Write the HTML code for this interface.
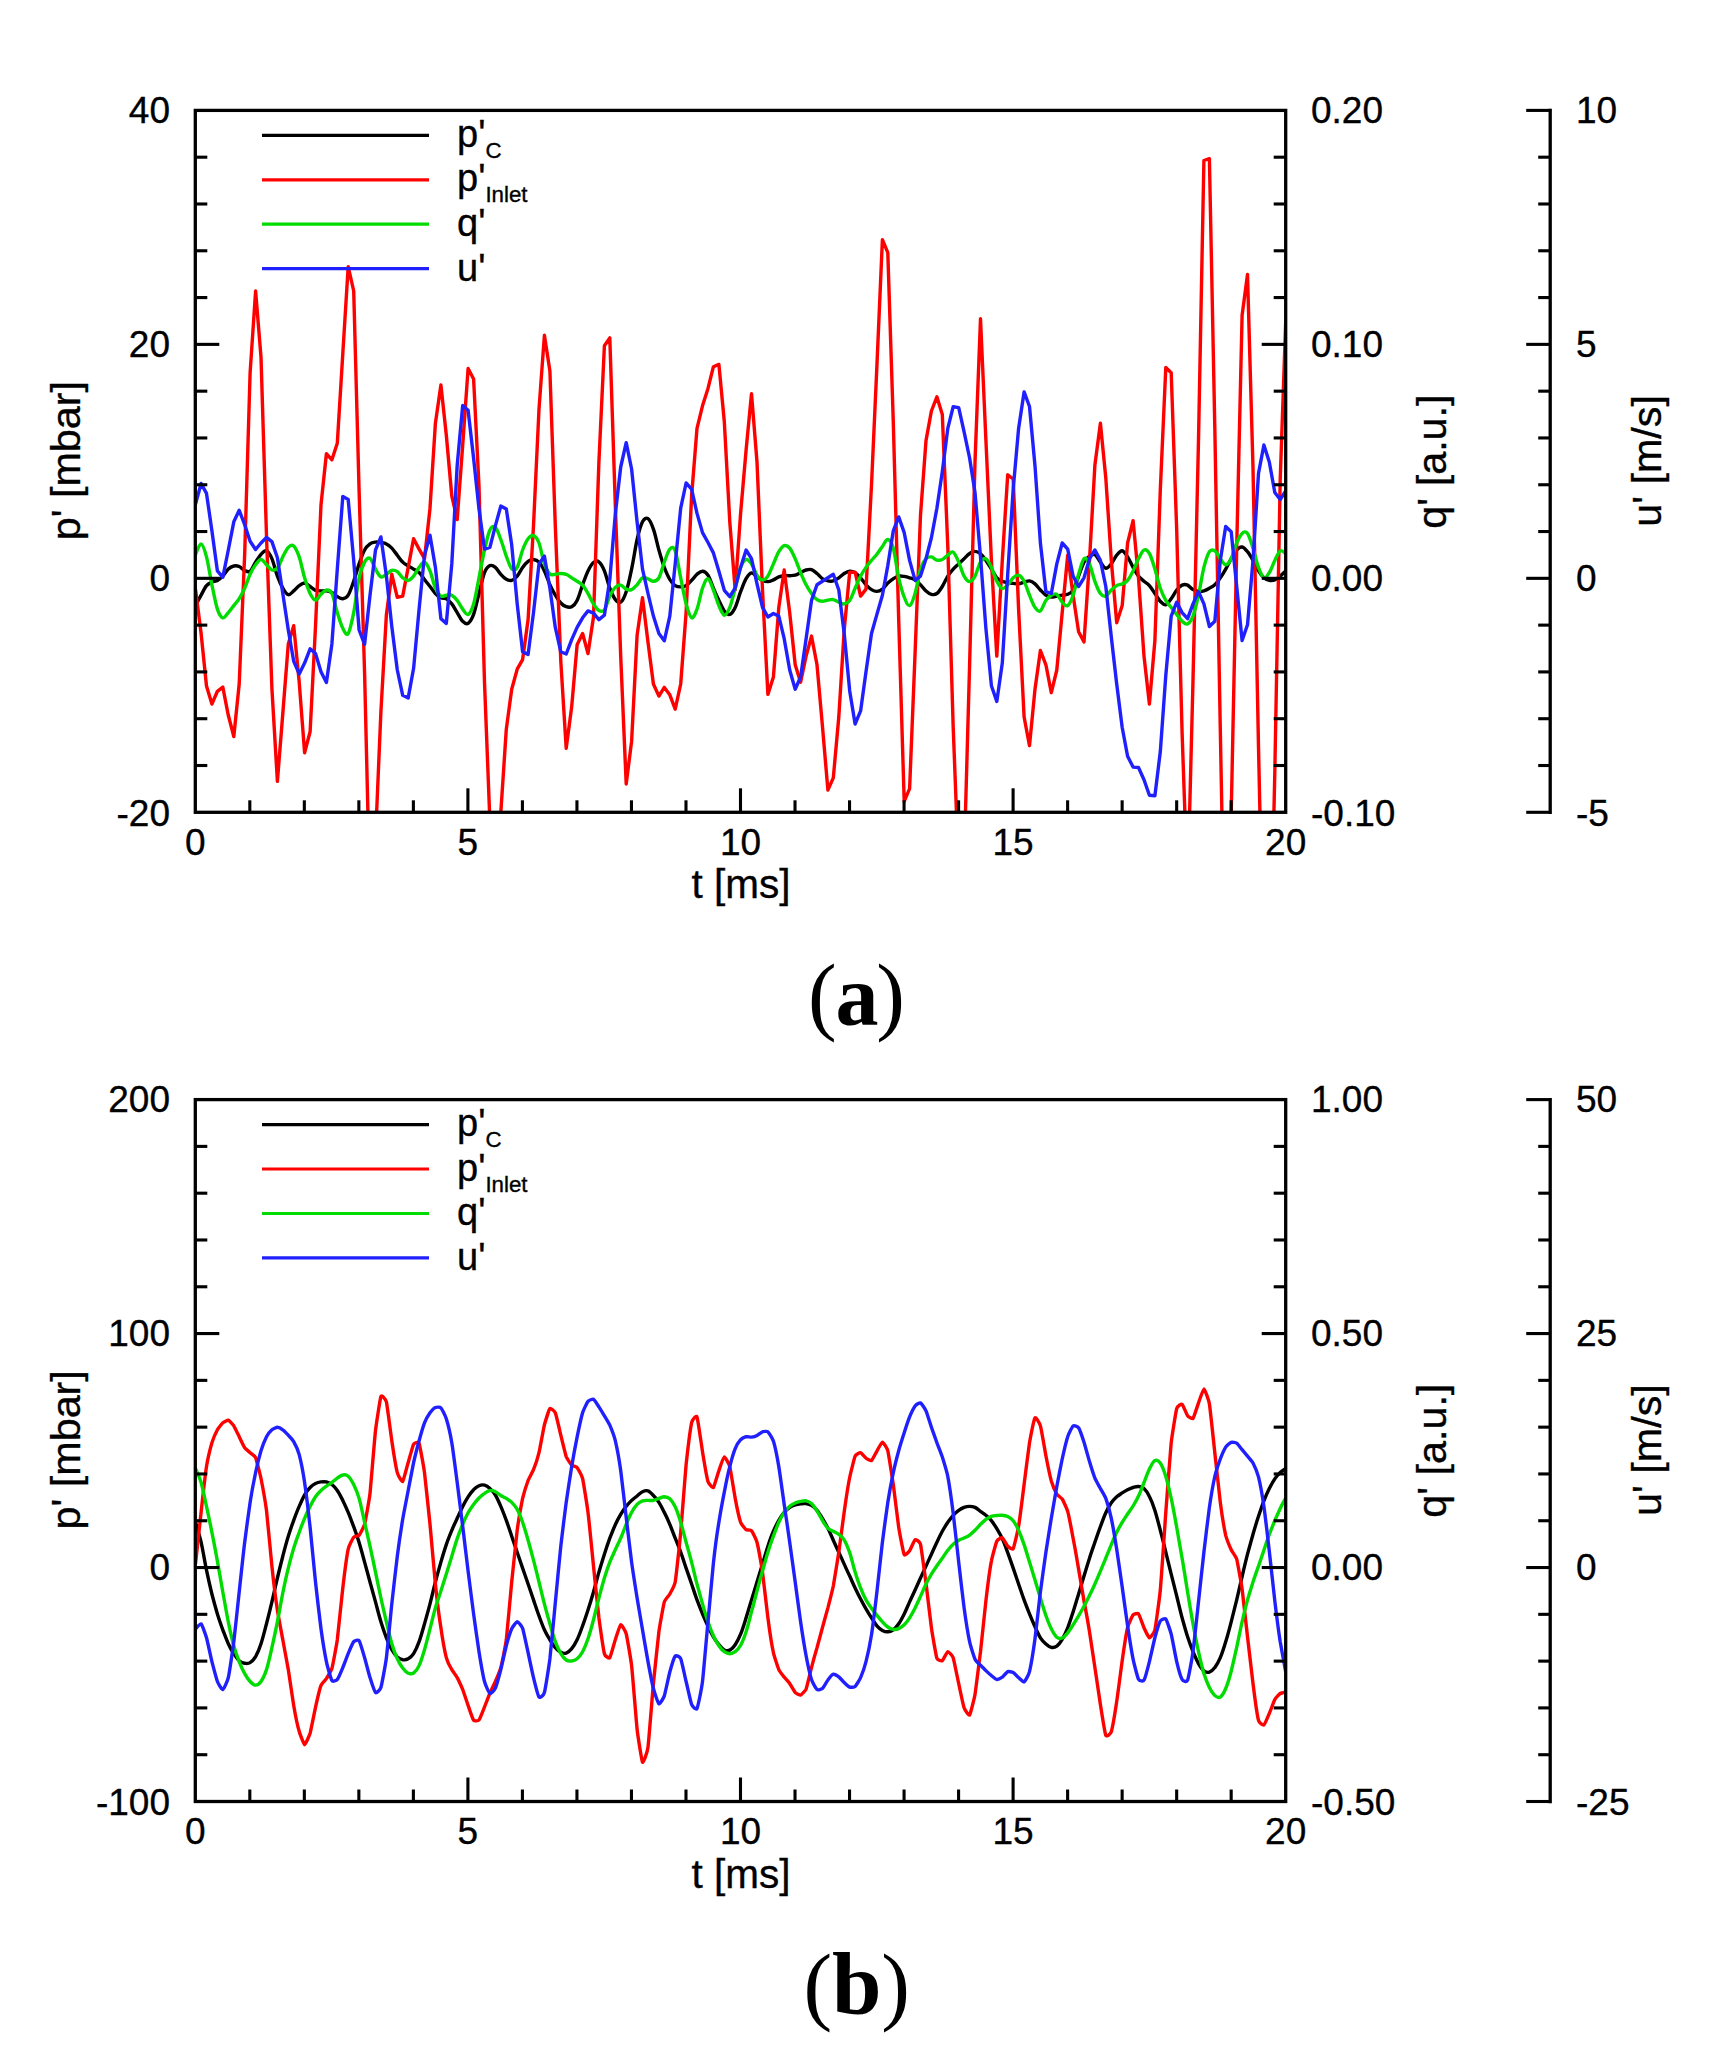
<!DOCTYPE html>
<html><head><meta charset="utf-8"><title>Figure</title>
<style>
html,body{margin:0;padding:0;background:#fff;}
body{width:1724px;height:2060px;overflow:hidden;}
svg{display:block;}
</style></head><body>
<svg width="1724" height="2060" viewBox="0 0 1724 2060">
<rect width="1724" height="2060" fill="#fff"/>
<g>
<clipPath id="clip1"><rect x="195.3" y="110.4" width="1090.4" height="701.9"/></clipPath>
<g clip-path="url(#clip1)" fill="none" stroke-width="3.4" stroke-linejoin="round" stroke-linecap="round">
<path stroke="#000" d="M195.6,605.6C196.5,603.9 199.2,598.5 201.1,595.2C202.9,591.9 204.7,587.8 206.5,585.6C208.3,583.5 210.1,583.0 211.9,582.2C213.8,581.3 215.6,581.4 217.4,580.4C219.2,579.4 221.0,578.0 222.8,576.1C224.7,574.2 226.5,570.8 228.3,569.1C230.1,567.4 231.9,566.4 233.8,566.0C235.6,565.5 237.4,565.7 239.2,566.5C241.0,567.3 242.8,569.7 244.7,570.5C246.5,571.3 248.3,572.6 250.1,571.2C251.9,569.8 253.7,565.0 255.6,562.1C257.4,559.3 259.2,556.2 261.0,554.3C262.8,552.4 264.6,550.1 266.5,550.8C268.3,551.6 270.1,554.5 271.9,558.7C273.7,562.9 275.5,571.1 277.4,576.1C279.2,581.0 281.0,585.1 282.8,588.2C284.6,591.4 286.4,594.3 288.3,594.7C290.1,595.1 291.9,592.4 293.7,590.9C295.5,589.4 297.3,586.9 299.2,585.6C301.0,584.3 302.8,582.9 304.6,583.0C306.4,583.2 308.2,585.3 310.1,586.5C311.9,587.7 313.7,589.6 315.5,590.3C317.3,591.1 319.1,590.8 321.0,590.9C322.8,590.9 324.6,590.6 326.4,590.9C328.2,591.1 330.0,591.6 331.9,592.6C333.7,593.6 335.5,595.6 337.3,596.6C339.1,597.6 340.9,598.9 342.8,598.7C344.6,598.5 346.4,598.1 348.2,595.2C350.0,592.3 351.8,586.5 353.7,581.3C355.5,576.1 357.3,569.1 359.1,563.9C360.9,558.7 362.8,553.3 364.6,550.0C366.4,546.6 368.2,545.2 370.0,543.9C371.8,542.6 373.7,542.4 375.5,542.1C377.3,541.9 379.1,542.2 380.9,542.5C382.7,542.8 384.6,542.9 386.4,543.9C388.2,544.8 390.0,546.3 391.8,548.2C393.6,550.1 395.5,552.9 397.3,555.2C399.1,557.5 400.9,560.4 402.7,562.1C404.5,563.9 406.4,564.8 408.2,566.0C410.0,567.1 411.8,568.0 413.6,569.1C415.4,570.2 417.3,570.9 419.1,572.6C420.9,574.3 422.7,577.2 424.5,579.5C426.3,581.9 428.2,584.2 430.0,586.5C431.8,588.8 433.6,591.6 435.4,593.5C437.2,595.4 439.1,597.0 440.9,597.8C442.7,598.7 444.5,597.7 446.3,598.7C448.1,599.7 450.0,601.6 451.8,603.9C453.6,606.2 455.4,609.7 457.2,612.6C459.0,615.5 460.9,619.5 462.7,621.3C464.5,623.1 466.3,624.6 468.1,623.4C469.9,622.2 471.8,619.3 473.6,614.4C475.4,609.4 477.2,600.4 479.0,593.5C480.8,586.5 482.7,577.2 484.5,572.6C486.3,568.0 488.1,566.5 489.9,565.6C491.7,564.8 493.6,565.9 495.4,567.4C497.2,568.8 499.0,572.4 500.8,574.3C502.6,576.3 504.5,578.2 506.3,579.2C508.1,580.2 509.9,580.9 511.7,580.4C513.5,579.9 515.4,578.2 517.2,576.1C519.0,573.9 520.8,569.8 522.6,567.4C524.4,564.9 526.3,562.6 528.1,561.3C529.9,560.0 531.7,559.4 533.5,559.5C535.3,559.7 537.2,560.3 539.0,562.1C540.8,564.0 542.6,567.1 544.4,570.9C546.2,574.6 548.1,580.7 549.9,584.8C551.7,588.8 553.5,592.2 555.3,595.2C557.1,598.3 559.0,601.1 560.8,603.0C562.6,605.0 564.4,606.1 566.2,606.7C568.0,607.3 569.9,607.7 571.7,606.7C573.5,605.7 575.3,604.1 577.1,600.4C579.0,596.8 580.8,589.7 582.6,584.8C584.4,579.8 586.2,574.6 588.0,570.9C589.9,567.1 591.7,564.0 593.5,562.5C595.3,561.0 597.1,560.4 598.9,561.8C600.8,563.2 602.6,566.4 604.4,570.9C606.2,575.3 608.0,583.5 609.8,588.2C611.7,593.0 613.5,597.2 615.3,599.6C617.1,601.9 618.9,603.5 620.7,602.2C622.6,600.9 624.4,597.2 626.2,591.7C628.0,586.2 629.8,577.8 631.6,569.1C633.5,560.4 635.3,547.4 637.1,539.5C638.9,531.6 640.7,525.3 642.5,521.8C644.4,518.3 646.2,517.4 648.0,518.6C649.8,519.9 651.6,523.9 653.4,529.1C655.3,534.3 657.1,543.6 658.9,550.0C660.7,556.4 662.5,562.4 664.3,567.4C666.2,572.3 668.0,576.5 669.8,579.5C671.6,582.6 673.4,584.4 675.2,585.6C677.1,586.9 678.9,586.9 680.7,586.9C682.5,586.9 684.3,586.7 686.1,585.6C688.0,584.6 689.8,582.3 691.6,580.4C693.4,578.5 695.2,575.9 697.0,574.3C698.9,572.8 700.7,571.1 702.5,571.2C704.3,571.3 706.1,572.4 708.0,575.2C709.8,578.0 711.6,584.0 713.4,588.2C715.2,592.5 717.0,596.7 718.9,600.4C720.7,604.2 722.5,608.5 724.3,610.9C726.1,613.2 727.9,614.9 729.8,614.4C731.6,613.8 733.4,611.2 735.2,607.4C737.0,603.6 738.8,596.5 740.6,591.7C742.5,586.9 744.3,581.8 746.1,578.7C747.9,575.5 749.7,573.2 751.5,572.9C753.4,572.7 755.2,575.7 757.0,576.9C758.8,578.2 760.6,579.6 762.5,580.4C764.3,581.2 766.1,581.7 767.9,581.6C769.7,581.6 771.5,580.7 773.4,579.9C775.2,579.1 777.0,577.6 778.8,576.9C780.6,576.2 782.4,575.9 784.2,575.7C786.1,575.5 787.9,575.8 789.7,575.7C791.5,575.6 793.3,575.7 795.2,575.2C797.0,574.7 798.8,573.5 800.6,572.6C802.4,571.7 804.2,570.5 806.1,570.0C807.9,569.5 809.7,569.0 811.5,569.6C813.3,570.2 815.1,572.0 817.0,573.5C818.8,575.0 820.6,577.4 822.4,578.7C824.2,579.9 826.0,580.6 827.9,580.9C829.7,581.3 831.5,581.5 833.3,580.9C835.1,580.4 836.9,579.1 838.8,577.8C840.6,576.6 842.4,574.6 844.2,573.5C846.0,572.4 847.8,571.3 849.7,571.2C851.5,571.1 853.3,571.5 855.1,572.6C856.9,573.7 858.7,575.8 860.6,577.8C862.4,579.8 864.2,582.8 866.0,584.8C867.8,586.7 869.6,588.5 871.5,589.6C873.3,590.7 875.1,591.5 876.9,591.4C878.7,591.3 880.5,590.5 882.4,589.1C884.2,587.7 886.0,584.8 887.8,583.0C889.6,581.3 891.4,579.8 893.3,578.7C895.1,577.5 896.9,576.4 898.7,576.1C900.5,575.7 902.4,576.1 904.2,576.4C906.0,576.7 907.8,577.2 909.6,577.8C911.4,578.4 913.3,578.7 915.1,579.9C916.9,581.1 918.7,582.9 920.5,584.8C922.3,586.6 924.2,589.3 926.0,590.9C927.8,592.5 929.6,593.9 931.4,594.3C933.2,594.8 935.1,594.8 936.9,593.5C938.7,592.2 940.5,589.4 942.3,586.5C944.1,583.6 946.0,579.0 947.8,576.1C949.6,573.2 951.4,571.1 953.2,569.1C955.0,567.1 956.9,565.6 958.7,563.9C960.5,562.1 962.3,560.4 964.1,558.7C965.9,556.9 967.8,554.7 969.6,553.5C971.4,552.2 973.2,551.3 975.0,551.4C976.8,551.4 978.7,552.3 980.5,553.8C982.3,555.3 984.1,557.9 985.9,560.4C987.7,563.0 989.6,566.2 991.4,569.1C993.2,572.0 995.0,575.8 996.8,577.8C998.6,579.8 1000.5,580.5 1002.3,581.3C1004.1,582.1 1005.9,582.3 1007.7,582.7C1009.5,583.0 1011.4,583.2 1013.2,583.4C1015.0,583.6 1016.8,584.1 1018.6,583.9C1020.4,583.7 1022.3,582.7 1024.1,582.2C1025.9,581.7 1027.7,580.7 1029.5,580.9C1031.3,581.2 1033.2,582.4 1035.0,583.9C1036.8,585.4 1038.6,588.1 1040.4,590.0C1042.2,591.9 1044.1,594.1 1045.9,595.2C1047.7,596.4 1049.5,596.8 1051.3,597.0C1053.1,597.1 1055.0,596.4 1056.8,596.1C1058.6,595.8 1060.4,595.5 1062.2,595.2C1064.0,594.9 1065.9,595.2 1067.7,594.3C1069.5,593.5 1071.3,593.0 1073.1,590.0C1074.9,586.9 1076.8,580.7 1078.6,576.1C1080.4,571.4 1082.2,565.5 1084.0,562.1C1085.8,558.8 1087.7,557.3 1089.5,556.1C1091.3,554.8 1093.1,553.5 1094.9,554.5C1096.7,555.5 1098.6,559.9 1100.4,562.1C1102.2,564.4 1104.0,568.0 1105.8,568.2C1107.6,568.5 1109.5,566.1 1111.3,563.9C1113.1,561.7 1114.9,557.4 1116.7,555.2C1118.5,553.0 1120.4,550.6 1122.2,550.8C1124.0,551.1 1125.8,554.2 1127.6,556.9C1129.5,559.7 1131.3,564.2 1133.1,567.4C1134.9,570.6 1136.7,573.8 1138.5,576.1C1140.4,578.4 1142.2,579.7 1144.0,581.3C1145.8,582.9 1147.6,583.6 1149.4,585.6C1151.3,587.7 1153.1,590.9 1154.9,593.5C1156.7,596.1 1158.5,599.4 1160.3,601.3C1162.2,603.2 1164.0,605.2 1165.8,604.8C1167.6,604.3 1169.4,601.2 1171.2,598.7C1173.1,596.2 1174.9,592.3 1176.7,590.0C1178.5,587.7 1180.3,585.9 1182.1,585.1C1184.0,584.3 1185.8,584.4 1187.6,585.1C1189.4,585.9 1191.2,588.6 1193.0,589.6C1194.9,590.7 1196.7,591.2 1198.5,591.4C1200.3,591.6 1202.1,591.4 1203.9,590.9C1205.8,590.3 1207.6,589.3 1209.4,588.2C1211.2,587.2 1213.0,586.5 1214.8,584.8C1216.7,583.0 1218.5,580.4 1220.3,577.8C1222.1,575.2 1223.9,572.3 1225.7,569.1C1227.6,565.9 1229.4,561.9 1231.2,558.7C1233.0,555.5 1234.8,551.9 1236.7,550.0C1238.5,548.0 1240.3,546.7 1242.1,547.0C1243.9,547.3 1245.7,549.5 1247.5,551.7C1249.4,553.9 1251.2,557.2 1253.0,560.4C1254.8,563.6 1256.6,568.0 1258.5,570.9C1260.3,573.8 1262.1,576.2 1263.9,577.8C1265.7,579.4 1267.5,580.1 1269.3,580.4C1271.2,580.8 1273.0,580.6 1274.8,579.9C1276.6,579.2 1278.4,577.6 1280.2,576.1C1282.1,574.6 1284.8,571.7 1285.7,570.9"/>
<polyline stroke="#ff0000" points="195.6,590.0 201.1,633.5 206.5,686.0 211.9,704.0 217.4,691.3 222.8,687.1 228.3,715.3 233.8,736.5 239.2,684.0 244.7,553.5 250.1,372.8 255.6,291.0 261.0,357.1 266.5,536.0 271.9,688.3 277.4,781.4 282.8,713.5 288.3,643.9 293.7,625.7 299.2,682.2 304.6,752.7 310.1,731.8 315.5,626.5 321.0,504.7 326.4,453.7 331.9,459.8 337.3,443.2 342.8,353.6 348.2,266.6 353.7,291.0 359.1,490.8 364.6,673.5 370.0,899.7 375.5,838.8 380.9,711.8 386.4,614.4 391.8,574.3 397.3,597.3 402.7,596.1 408.2,567.4 413.6,538.7 419.1,549.1 424.5,558.7 430.0,508.2 435.4,423.2 440.9,384.9 446.3,435.0 451.8,496.0 457.2,519.5 462.7,445.0 468.1,368.5 473.6,379.0 479.0,486.0 484.5,682.2 489.9,821.4 495.4,891.0 500.8,812.7 506.3,729.2 511.7,689.2 517.2,669.2 522.6,659.6 528.1,619.6 533.5,525.6 539.0,409.0 544.4,335.3 549.9,371.0 555.3,525.6 560.8,661.3 566.2,748.3 571.7,706.6 577.1,644.8 582.6,633.5 588.0,653.5 593.5,617.0 598.9,462.0 604.4,345.8 609.8,337.9 615.3,504.7 620.7,656.1 626.2,784.0 631.6,741.4 637.1,635.2 642.5,597.8 648.0,642.2 653.4,684.0 658.9,696.1 664.3,687.4 669.8,694.8 675.2,709.2 680.7,684.0 686.1,612.6 691.6,496.0 697.0,428.4 702.5,405.8 708.0,388.4 713.4,366.7 718.9,364.4 724.3,421.5 729.8,522.1 735.2,590.0 740.6,513.4 746.1,450.0 751.5,393.6 757.0,462.0 762.5,590.0 767.9,694.4 773.4,677.0 778.8,607.4 784.2,570.0 789.7,612.6 795.2,664.8 800.6,682.2 806.1,656.1 811.5,636.1 817.0,664.8 822.4,725.7 827.9,790.1 833.3,777.9 838.8,717.0 844.2,630.0 849.7,572.2 855.1,572.2 860.6,596.1 866.0,589.1 871.5,485.0 876.9,365.8 882.4,239.6 887.8,252.7 893.3,422.5 898.7,619.6 904.2,801.4 909.6,788.7 915.1,652.6 920.5,515.2 926.0,440.6 931.4,411.0 936.9,396.8 942.3,414.5 947.8,546.5 953.2,727.5 958.7,870.1 964.1,861.5 969.6,664.8 975.0,462.0 980.5,318.8 985.9,440.0 991.4,560.4 996.8,656.1 1002.3,560.4 1007.7,474.8 1013.2,479.0 1018.6,609.1 1024.1,717.0 1029.5,745.7 1035.0,689.2 1040.4,650.5 1045.9,664.8 1051.3,692.7 1056.8,670.0 1062.2,612.6 1067.7,555.2 1073.1,595.2 1078.6,631.8 1084.0,641.9 1089.5,560.4 1094.9,465.0 1100.4,423.2 1105.8,478.0 1111.3,560.4 1116.7,622.7 1122.2,605.6 1127.6,543.0 1133.1,520.7 1138.5,577.8 1144.0,656.1 1149.4,704.0 1154.9,640.5 1160.3,490.0 1165.8,367.5 1171.2,372.7 1176.7,530.0 1182.1,732.7 1187.6,891.0 1193.0,680.5 1198.5,440.0 1203.9,160.5 1209.4,158.7 1214.8,427.0 1220.3,729.2 1225.7,1012.8 1231.2,814.0 1236.7,548.0 1242.1,315.3 1247.5,274.4 1253.0,468.0 1258.5,746.6 1263.9,995.4 1269.3,1020.7 1274.8,772.7 1280.2,480.0 1285.7,322.0"/>
<path stroke="#00dc00" d="M195.6,554.3C196.5,552.6 199.2,543.4 201.1,543.9C202.9,544.3 204.7,550.1 206.5,556.9C208.3,563.7 210.1,576.1 211.9,584.8C213.8,593.5 215.6,603.6 217.4,609.1C219.2,614.6 221.0,617.2 222.8,617.8C224.7,618.4 226.5,614.6 228.3,612.6C230.1,610.6 231.9,608.0 233.8,605.6C235.6,603.3 237.4,601.6 239.2,598.7C241.0,595.8 242.8,592.3 244.7,588.2C246.5,584.2 248.3,578.2 250.1,574.3C251.9,570.4 253.7,567.2 255.6,564.8C257.4,562.3 259.2,559.5 261.0,559.5C262.8,559.5 264.6,563.0 266.5,564.8C268.3,566.5 270.1,569.4 271.9,570.0C273.7,570.6 275.5,570.4 277.4,568.2C279.2,566.1 281.0,560.4 282.8,556.9C284.6,553.4 286.4,549.2 288.3,547.4C290.1,545.6 291.9,544.5 293.7,546.1C295.5,547.7 297.3,551.7 299.2,556.9C301.0,562.2 302.8,571.7 304.6,577.8C306.4,583.9 308.2,589.8 310.1,593.5C311.9,597.2 313.7,599.9 315.5,600.1C317.3,600.2 319.1,596.0 321.0,594.3C322.8,592.7 324.6,590.1 326.4,590.0C328.2,589.8 330.0,589.7 331.9,593.5C333.7,597.2 335.5,606.8 337.3,612.6C339.1,618.4 340.9,624.8 342.8,628.3C344.6,631.8 346.4,636.1 348.2,633.5C350.0,630.9 351.8,621.9 353.7,612.6C355.5,603.3 357.3,586.2 359.1,577.8C360.9,569.4 362.8,565.4 364.6,562.1C366.4,558.9 368.2,557.2 370.0,558.3C371.8,559.5 373.7,566.0 375.5,569.1C377.3,572.2 379.1,576.1 380.9,576.9C382.7,577.8 384.6,575.4 386.4,574.3C388.2,573.2 390.0,570.8 391.8,570.3C393.6,569.9 395.5,570.5 397.3,571.7C399.1,573.0 400.9,576.4 402.7,577.8C404.5,579.3 406.4,580.7 408.2,580.4C410.0,580.1 411.8,578.2 413.6,576.1C415.4,573.9 417.3,569.7 419.1,567.4C420.9,565.0 422.7,561.6 424.5,562.1C426.3,562.7 428.2,566.5 430.0,570.9C431.8,575.2 433.6,584.0 435.4,588.2C437.2,592.5 439.1,594.9 440.9,596.1C442.7,597.2 444.5,595.4 446.3,595.2C448.1,595.1 450.0,594.3 451.8,595.2C453.6,596.1 455.4,598.1 457.2,600.4C459.0,602.8 460.9,606.8 462.7,609.1C464.5,611.5 466.3,615.2 468.1,614.4C469.9,613.5 471.8,610.0 473.6,603.9C475.4,597.8 477.2,586.8 479.0,577.8C480.8,568.8 482.7,557.9 484.5,550.0C486.3,542.0 488.1,533.7 489.9,530.0C491.7,526.2 493.6,525.8 495.4,527.4C497.2,528.9 499.0,534.7 500.8,539.5C502.6,544.3 504.5,551.2 506.3,556.1C508.1,560.9 509.9,566.9 511.7,568.8C513.5,570.6 515.4,570.5 517.2,567.4C519.0,564.2 520.8,554.8 522.6,550.0C524.4,545.2 526.3,541.0 528.1,538.7C529.9,536.3 531.7,535.0 533.5,535.7C535.3,536.4 537.2,538.3 539.0,543.0C540.8,547.7 542.6,558.7 544.4,563.9C546.2,569.1 548.1,572.2 549.9,574.0C551.7,575.7 553.5,574.4 555.3,574.3C557.1,574.2 559.0,573.5 560.8,573.5C562.6,573.5 564.4,573.6 566.2,574.3C568.0,575.1 569.9,576.6 571.7,577.8C573.5,579.0 575.3,580.1 577.1,581.3C579.0,582.5 580.8,583.1 582.6,585.1C584.4,587.1 586.2,590.3 588.0,593.5C589.9,596.6 591.7,601.1 593.5,603.9C595.3,606.8 597.1,609.5 598.9,610.5C600.8,611.5 602.6,612.4 604.4,610.0C606.2,607.6 608.0,599.9 609.8,596.1C611.7,592.3 613.5,589.2 615.3,587.4C617.1,585.6 618.9,584.8 620.7,585.1C622.6,585.4 624.4,588.4 626.2,589.1C628.0,589.9 629.8,590.4 631.6,589.6C633.5,588.9 635.3,586.7 637.1,584.8C638.9,582.8 640.7,578.8 642.5,577.8C644.4,576.8 646.2,578.3 648.0,578.9C649.8,579.4 651.6,581.5 653.4,581.3C655.3,581.1 657.1,581.0 658.9,577.8C660.7,574.6 662.5,566.9 664.3,562.1C666.2,557.4 668.0,551.0 669.8,549.1C671.6,547.2 673.4,546.1 675.2,550.8C677.1,555.6 678.9,569.0 680.7,577.8C682.5,586.7 684.3,597.2 686.1,603.9C688.0,610.6 689.8,617.0 691.6,617.8C693.4,618.7 695.2,614.1 697.0,609.1C698.9,604.2 700.7,593.3 702.5,588.2C704.3,583.2 706.1,578.4 708.0,578.7C709.8,579.0 711.6,585.5 713.4,590.0C715.2,594.5 717.0,601.4 718.9,605.6C720.7,609.9 722.5,614.9 724.3,615.2C726.1,615.5 727.9,611.9 729.8,607.4C731.6,602.9 733.4,594.9 735.2,588.2C737.0,581.6 738.8,572.2 740.6,567.4C742.5,562.6 744.3,560.1 746.1,559.5C747.9,559.0 749.7,561.3 751.5,563.9C753.4,566.5 755.2,572.5 757.0,575.2C758.8,577.9 760.6,579.8 762.5,579.9C764.3,580.0 766.1,578.7 767.9,576.1C769.7,573.4 771.5,568.0 773.4,563.9C775.2,559.8 777.0,554.8 778.8,551.7C780.6,548.7 782.4,546.2 784.2,545.6C786.1,545.0 787.9,546.1 789.7,548.2C791.5,550.4 793.3,554.6 795.2,558.7C797.0,562.7 798.8,568.2 800.6,572.6C802.4,576.9 804.2,581.3 806.1,584.8C807.9,588.2 809.7,591.0 811.5,593.5C813.3,595.9 815.1,598.3 817.0,599.6C818.8,600.9 820.6,601.2 822.4,601.3C824.2,601.4 826.0,600.4 827.9,600.1C829.7,599.8 831.5,599.2 833.3,599.6C835.1,599.9 836.9,601.4 838.8,602.2C840.6,602.9 842.4,604.2 844.2,603.9C846.0,603.6 847.8,603.0 849.7,600.4C851.5,597.8 853.3,592.3 855.1,588.2C856.9,584.2 858.7,579.6 860.6,576.1C862.4,572.6 864.2,570.0 866.0,567.4C867.8,564.8 869.6,562.6 871.5,560.4C873.3,558.2 875.1,556.6 876.9,554.3C878.7,552.0 880.5,549.0 882.4,546.5C884.2,544.0 886.0,539.2 887.8,539.5C889.6,539.8 891.4,541.9 893.3,548.2C895.1,554.6 896.9,569.7 898.7,577.8C900.5,585.9 902.4,592.3 904.2,597.0C906.0,601.6 907.8,606.2 909.6,605.6C911.4,605.1 913.3,599.6 915.1,593.5C916.9,587.4 918.7,574.9 920.5,569.1C922.3,563.3 924.2,560.7 926.0,558.7C927.8,556.6 929.6,556.7 931.4,556.9C933.2,557.2 935.1,559.6 936.9,560.1C938.7,560.5 940.5,560.4 942.3,559.5C944.1,558.7 946.0,556.4 947.8,555.2C949.6,553.9 951.4,550.9 953.2,552.1C955.0,553.2 956.9,558.1 958.7,562.1C960.5,566.2 962.3,572.8 964.1,576.1C965.9,579.3 967.8,581.6 969.6,581.6C971.4,581.6 973.2,579.3 975.0,576.1C976.8,572.8 978.7,565.0 980.5,562.1C982.3,559.2 984.1,557.8 985.9,558.7C987.7,559.5 989.6,563.6 991.4,567.4C993.2,571.1 995.0,577.8 996.8,581.3C998.6,584.8 1000.5,588.0 1002.3,588.6C1004.1,589.2 1005.9,586.6 1007.7,584.8C1009.5,583.0 1011.4,579.4 1013.2,577.8C1015.0,576.2 1016.8,574.6 1018.6,575.2C1020.4,575.8 1022.3,578.0 1024.1,581.3C1025.9,584.6 1027.7,590.9 1029.5,595.2C1031.3,599.6 1033.2,604.8 1035.0,607.4C1036.8,610.0 1038.6,612.0 1040.4,610.9C1042.2,609.7 1044.1,603.0 1045.9,600.4C1047.7,597.8 1049.5,596.2 1051.3,595.2C1053.1,594.2 1055.0,593.2 1056.8,594.3C1058.6,595.5 1060.4,600.3 1062.2,602.2C1064.0,604.1 1065.9,606.8 1067.7,605.6C1069.5,604.5 1071.3,600.4 1073.1,595.2C1074.9,590.0 1076.8,580.4 1078.6,574.3C1080.4,568.2 1082.2,560.4 1084.0,558.7C1085.8,556.9 1087.7,560.1 1089.5,563.9C1091.3,567.7 1093.1,576.4 1094.9,581.3C1096.7,586.2 1098.6,591.0 1100.4,593.5C1102.2,595.9 1104.0,596.7 1105.8,596.1C1107.6,595.5 1109.5,591.7 1111.3,590.0C1113.1,588.2 1114.9,586.7 1116.7,585.6C1118.5,584.6 1120.4,584.8 1122.2,583.9C1124.0,583.0 1125.8,582.6 1127.6,580.4C1129.5,578.2 1131.3,574.5 1133.1,570.9C1134.9,567.2 1136.7,562.1 1138.5,558.7C1140.4,555.2 1142.2,550.8 1144.0,550.0C1145.8,549.1 1147.6,550.3 1149.4,553.5C1151.3,556.6 1153.1,563.3 1154.9,569.1C1156.7,574.9 1158.5,583.0 1160.3,588.2C1162.2,593.5 1164.0,597.2 1165.8,600.4C1167.6,603.6 1169.4,605.1 1171.2,607.4C1173.1,609.7 1174.9,612.0 1176.7,614.4C1178.5,616.7 1180.3,619.7 1182.1,621.3C1184.0,622.9 1185.8,624.8 1187.6,623.9C1189.4,623.0 1191.2,620.9 1193.0,616.1C1194.9,611.3 1196.7,603.3 1198.5,595.2C1200.3,587.1 1202.1,574.6 1203.9,567.4C1205.8,560.1 1207.6,554.5 1209.4,551.7C1211.2,549.0 1213.0,549.7 1214.8,550.8C1216.7,552.0 1218.5,556.3 1220.3,558.7C1222.1,561.0 1223.9,564.8 1225.7,564.8C1227.6,564.8 1229.4,562.3 1231.2,558.7C1233.0,555.0 1234.8,547.2 1236.7,543.0C1238.5,538.8 1240.3,535.0 1242.1,533.4C1243.9,531.8 1245.7,531.0 1247.5,533.4C1249.4,535.9 1251.2,542.6 1253.0,548.2C1254.8,553.9 1256.6,562.4 1258.5,567.4C1260.3,572.3 1262.1,576.9 1263.9,577.8C1265.7,578.7 1267.5,575.5 1269.3,572.6C1271.2,569.7 1273.0,564.0 1274.8,560.4C1276.6,556.8 1278.4,552.0 1280.2,550.8C1282.1,549.7 1284.8,553.0 1285.7,553.5"/>
<polyline stroke="#2020ff" points="195.6,503.9 201.1,483.5 206.5,493.4 211.9,530.8 217.4,570.9 222.8,577.3 228.3,550.0 233.8,521.8 239.2,510.3 244.7,524.7 250.1,541.3 255.6,549.5 261.0,543.0 266.5,537.4 271.9,541.6 277.4,557.8 282.8,593.5 288.3,630.0 293.7,661.3 299.2,673.9 304.6,663.1 310.1,648.8 315.5,653.5 321.0,671.8 326.4,682.6 331.9,643.9 337.3,569.1 342.8,496.4 348.2,499.5 353.7,560.4 359.1,630.0 364.6,644.3 370.0,595.2 375.5,550.0 380.9,536.9 386.4,576.1 391.8,626.5 397.3,670.0 402.7,695.3 408.2,697.9 413.6,668.3 419.1,609.1 424.5,555.2 430.0,535.2 435.4,567.4 440.9,618.7 446.3,623.4 451.8,563.9 457.2,465.1 462.7,405.4 468.1,410.3 473.6,458.3 479.0,509.1 484.5,549.1 489.9,547.4 495.4,525.6 500.8,506.1 506.3,509.1 511.7,544.8 517.2,603.9 522.6,651.8 528.1,654.4 533.5,612.6 539.0,563.9 544.4,556.1 549.9,588.2 555.3,627.4 560.8,651.8 566.2,654.0 571.7,639.6 577.1,627.4 582.6,617.8 588.0,610.9 593.5,613.1 598.9,619.6 604.4,615.2 609.8,579.5 615.3,514.3 620.7,467.0 626.2,442.7 631.6,469.0 637.1,522.1 642.5,569.1 648.0,593.5 653.4,616.1 658.9,633.5 664.3,640.8 669.8,616.1 675.2,563.9 680.7,508.2 686.1,483.0 691.6,489.1 697.0,513.4 702.5,532.6 708.0,542.5 713.4,552.9 718.9,571.2 724.3,590.3 729.8,596.6 735.2,587.9 740.6,567.4 746.1,550.0 751.5,558.7 757.0,583.9 762.5,607.4 767.9,617.0 773.4,613.5 778.8,616.1 784.2,638.7 789.7,670.0 795.2,689.2 800.6,677.0 806.1,638.7 811.5,600.4 817.0,584.8 822.4,581.3 827.9,577.8 833.3,574.3 838.8,590.0 844.2,633.5 849.7,690.9 855.1,724.0 860.6,710.9 866.0,671.8 871.5,633.5 876.9,614.4 882.4,595.2 887.8,565.6 893.3,530.8 898.7,516.9 904.2,532.6 909.6,560.4 915.1,580.4 920.5,576.1 926.0,558.7 931.4,537.8 936.9,508.2 942.3,471.7 947.8,428.4 953.2,406.7 958.7,407.6 964.1,431.9 969.6,458.0 975.0,492.5 980.5,556.9 985.9,628.3 991.4,685.7 996.8,701.4 1002.3,663.1 1007.7,574.3 1013.2,489.1 1018.6,428.4 1024.1,391.9 1029.5,406.5 1035.0,466.0 1040.4,543.0 1045.9,591.7 1051.3,593.5 1056.8,563.9 1062.2,543.0 1067.7,549.1 1073.1,576.1 1078.6,586.5 1084.0,577.8 1089.5,558.7 1094.9,550.0 1100.4,560.4 1105.8,586.5 1111.3,637.0 1116.7,684.0 1122.2,727.5 1127.6,756.2 1133.1,767.1 1138.5,767.5 1144.0,779.7 1149.4,795.3 1154.9,795.7 1160.3,751.8 1165.8,675.3 1171.2,616.1 1176.7,602.2 1182.1,612.6 1187.6,618.7 1193.0,603.9 1198.5,591.7 1203.9,603.9 1209.4,626.5 1214.8,621.3 1220.3,560.4 1225.7,526.5 1231.2,531.7 1236.7,586.5 1242.1,640.5 1247.5,624.8 1253.0,560.4 1258.5,473.4 1263.9,445.0 1269.3,462.0 1274.8,492.5 1280.2,499.5 1285.7,490.8"/>
</g>
<g stroke="#000" stroke-width="3.3" fill="none" stroke-linecap="square">
<rect x="195.3" y="110.4" width="1090.4" height="701.9"/>
<line x1="1550.2" y1="110.4" x2="1550.2" y2="812.3"/>
</g>
<g stroke="#000" stroke-width="3.1" fill="none">
<line x1="1551.2" y1="110.40" x2="1526.2" y2="110.40"/>
<line x1="195.3" y1="157.19" x2="207.3" y2="157.19"/>
<line x1="1285.7" y1="157.19" x2="1273.7" y2="157.19"/>
<line x1="1550.2" y1="157.19" x2="1538.2" y2="157.19"/>
<line x1="195.3" y1="203.99" x2="207.3" y2="203.99"/>
<line x1="1285.7" y1="203.99" x2="1273.7" y2="203.99"/>
<line x1="1550.2" y1="203.99" x2="1538.2" y2="203.99"/>
<line x1="195.3" y1="250.78" x2="207.3" y2="250.78"/>
<line x1="1285.7" y1="250.78" x2="1273.7" y2="250.78"/>
<line x1="1550.2" y1="250.78" x2="1538.2" y2="250.78"/>
<line x1="195.3" y1="297.57" x2="207.3" y2="297.57"/>
<line x1="1285.7" y1="297.57" x2="1273.7" y2="297.57"/>
<line x1="1550.2" y1="297.57" x2="1538.2" y2="297.57"/>
<line x1="195.3" y1="344.37" x2="219.3" y2="344.37"/>
<line x1="1285.7" y1="344.37" x2="1261.7" y2="344.37"/>
<line x1="1550.2" y1="344.37" x2="1526.2" y2="344.37"/>
<line x1="195.3" y1="391.16" x2="207.3" y2="391.16"/>
<line x1="1285.7" y1="391.16" x2="1273.7" y2="391.16"/>
<line x1="1550.2" y1="391.16" x2="1538.2" y2="391.16"/>
<line x1="195.3" y1="437.95" x2="207.3" y2="437.95"/>
<line x1="1285.7" y1="437.95" x2="1273.7" y2="437.95"/>
<line x1="1550.2" y1="437.95" x2="1538.2" y2="437.95"/>
<line x1="195.3" y1="484.75" x2="207.3" y2="484.75"/>
<line x1="1285.7" y1="484.75" x2="1273.7" y2="484.75"/>
<line x1="1550.2" y1="484.75" x2="1538.2" y2="484.75"/>
<line x1="195.3" y1="531.54" x2="207.3" y2="531.54"/>
<line x1="1285.7" y1="531.54" x2="1273.7" y2="531.54"/>
<line x1="1550.2" y1="531.54" x2="1538.2" y2="531.54"/>
<line x1="195.3" y1="578.33" x2="219.3" y2="578.33"/>
<line x1="1285.7" y1="578.33" x2="1261.7" y2="578.33"/>
<line x1="1550.2" y1="578.33" x2="1526.2" y2="578.33"/>
<line x1="195.3" y1="625.13" x2="207.3" y2="625.13"/>
<line x1="1285.7" y1="625.13" x2="1273.7" y2="625.13"/>
<line x1="1550.2" y1="625.13" x2="1538.2" y2="625.13"/>
<line x1="195.3" y1="671.92" x2="207.3" y2="671.92"/>
<line x1="1285.7" y1="671.92" x2="1273.7" y2="671.92"/>
<line x1="1550.2" y1="671.92" x2="1538.2" y2="671.92"/>
<line x1="195.3" y1="718.71" x2="207.3" y2="718.71"/>
<line x1="1285.7" y1="718.71" x2="1273.7" y2="718.71"/>
<line x1="1550.2" y1="718.71" x2="1538.2" y2="718.71"/>
<line x1="195.3" y1="765.51" x2="207.3" y2="765.51"/>
<line x1="1285.7" y1="765.51" x2="1273.7" y2="765.51"/>
<line x1="1550.2" y1="765.51" x2="1538.2" y2="765.51"/>
<line x1="1551.2" y1="812.30" x2="1526.2" y2="812.30"/>
<line x1="249.82" y1="812.3" x2="249.82" y2="800.3"/>
<line x1="304.34" y1="812.3" x2="304.34" y2="800.3"/>
<line x1="358.86" y1="812.3" x2="358.86" y2="800.3"/>
<line x1="413.38" y1="812.3" x2="413.38" y2="800.3"/>
<line x1="467.90" y1="812.3" x2="467.90" y2="788.3"/>
<line x1="522.42" y1="812.3" x2="522.42" y2="800.3"/>
<line x1="576.94" y1="812.3" x2="576.94" y2="800.3"/>
<line x1="631.46" y1="812.3" x2="631.46" y2="800.3"/>
<line x1="685.98" y1="812.3" x2="685.98" y2="800.3"/>
<line x1="740.50" y1="812.3" x2="740.50" y2="788.3"/>
<line x1="795.02" y1="812.3" x2="795.02" y2="800.3"/>
<line x1="849.54" y1="812.3" x2="849.54" y2="800.3"/>
<line x1="904.06" y1="812.3" x2="904.06" y2="800.3"/>
<line x1="958.58" y1="812.3" x2="958.58" y2="800.3"/>
<line x1="1013.10" y1="812.3" x2="1013.10" y2="788.3"/>
<line x1="1067.62" y1="812.3" x2="1067.62" y2="800.3"/>
<line x1="1122.14" y1="812.3" x2="1122.14" y2="800.3"/>
<line x1="1176.66" y1="812.3" x2="1176.66" y2="800.3"/>
<line x1="1231.18" y1="812.3" x2="1231.18" y2="800.3"/>
</g>
<g font-family='"Liberation Sans", Arial, sans-serif' font-size="37" fill="#000" stroke="#000" stroke-width="0.35">
<text x="170" y="122.6" text-anchor="end">40</text>
<text x="1311" y="122.6">0.20</text>
<text x="1576" y="122.6">10</text>
<text x="170" y="356.7" text-anchor="end">20</text>
<text x="1311" y="356.7">0.10</text>
<text x="1576" y="356.7">5</text>
<text x="170" y="591.2" text-anchor="end">0</text>
<text x="1311" y="591.2">0.00</text>
<text x="1576" y="591.2">0</text>
<text x="170" y="825.9" text-anchor="end">-20</text>
<text x="1311" y="825.9">-0.10</text>
<text x="1576" y="825.9">-5</text>
<text x="195.3" y="854.5999999999999" text-anchor="middle">0</text>
<text x="467.9" y="854.5999999999999" text-anchor="middle">5</text>
<text x="740.5" y="854.5999999999999" text-anchor="middle">10</text>
<text x="1013.1" y="854.5999999999999" text-anchor="middle">15</text>
<text x="1285.7" y="854.5999999999999" text-anchor="middle">20</text>
</g>
<g font-family='"Liberation Sans", Arial, sans-serif' font-size="41.3" fill="#000" stroke="#000" stroke-width="0.35">
<text x="741" y="898.3" text-anchor="middle" font-size="40.5">t [ms]</text>
<text transform="translate(79.8,460.65) rotate(-90)" text-anchor="middle">p' [mbar]</text>
<text transform="translate(1445.6,461.54999999999995) rotate(-90)" text-anchor="middle">q' [a.u.]</text>
<text transform="translate(1661.4,460.95) rotate(-90)" text-anchor="middle">u' [m/s]</text>
</g>
<g stroke-width="3.2" fill="none">
<line x1="262" y1="135.3" x2="429" y2="135.3" stroke="#000"/>
<line x1="262" y1="179.8" x2="429" y2="179.8" stroke="#ff0000"/>
<line x1="262" y1="224.2" x2="429" y2="224.2" stroke="#00dc00"/>
<line x1="262" y1="268.7" x2="429" y2="268.7" stroke="#2020ff"/>
</g>
<g font-family='"Liberation Sans", Arial, sans-serif' font-size="38" fill="#000" stroke="#000" stroke-width="0.35">
<text x="457" y="146.8">p'<tspan font-size="22.3" dy="11">C</tspan></text>
<text x="457" y="191.4">p'<tspan font-size="22.3" dy="11">Inlet</tspan></text>
<text x="457" y="236.0">q'</text>
<text x="457" y="280.6">u'</text>
</g>
</g>
<g>
<clipPath id="clip2"><rect x="195.3" y="1099.6000000000001" width="1090.4" height="701.8999999999999"/></clipPath>
<g clip-path="url(#clip2)" fill="none" stroke-width="3.4" stroke-linejoin="round" stroke-linecap="round">
<path stroke="#000" d="M195.6,1522.3C196.5,1525.6 199.2,1534.3 201.1,1542.2C202.9,1550.2 204.7,1561.5 206.5,1570.1C208.3,1578.7 210.1,1586.7 211.9,1594.0C213.8,1601.3 215.6,1607.9 217.4,1613.9C219.2,1619.8 221.0,1624.8 222.8,1629.8C224.7,1634.8 226.5,1639.8 228.3,1643.7C230.1,1647.7 231.9,1650.9 233.8,1653.7C235.6,1656.5 237.4,1659.1 239.2,1660.7C241.0,1662.2 242.8,1662.9 244.7,1663.2C246.5,1663.6 248.3,1663.7 250.1,1662.6C251.9,1661.5 253.7,1659.8 255.6,1656.7C257.4,1653.5 259.2,1649.2 261.0,1643.7C262.8,1638.3 264.6,1630.8 266.5,1623.8C268.3,1616.9 270.1,1609.6 271.9,1601.9C273.7,1594.3 275.5,1585.7 277.4,1578.0C279.2,1570.4 281.0,1563.1 282.8,1556.2C284.6,1549.2 286.4,1542.2 288.3,1536.2C290.1,1530.3 291.9,1525.3 293.7,1520.3C295.5,1515.4 297.3,1510.6 299.2,1506.4C301.0,1502.2 302.8,1498.0 304.6,1494.8C306.4,1491.7 308.2,1489.4 310.1,1487.5C311.9,1485.6 313.7,1484.4 315.5,1483.5C317.3,1482.6 319.1,1482.2 321.0,1481.9C322.8,1481.7 324.6,1481.5 326.4,1481.9C328.2,1482.4 330.0,1483.1 331.9,1484.5C333.7,1485.9 335.5,1487.8 337.3,1490.5C339.1,1493.1 340.9,1496.8 342.8,1500.4C344.6,1504.1 346.4,1508.0 348.2,1512.4C350.0,1516.7 351.8,1521.7 353.7,1526.7C355.5,1531.7 357.3,1536.7 359.1,1542.6C360.9,1548.5 362.8,1555.6 364.6,1562.1C366.4,1568.7 368.2,1575.4 370.0,1582.0C371.8,1588.7 373.7,1595.3 375.5,1601.9C377.3,1608.6 379.1,1615.9 380.9,1621.8C382.7,1627.8 384.6,1633.1 386.4,1637.8C388.2,1642.4 390.0,1646.5 391.8,1649.7C393.6,1652.9 395.5,1655.2 397.3,1656.9C399.1,1658.5 400.9,1659.3 402.7,1659.7C404.5,1660.0 406.4,1659.8 408.2,1658.8C410.0,1657.9 411.8,1656.5 413.6,1653.7C415.4,1650.8 417.3,1646.7 419.1,1641.7C420.9,1636.8 422.7,1630.1 424.5,1623.8C426.3,1617.5 428.2,1610.9 430.0,1603.9C431.8,1597.0 433.6,1589.0 435.4,1582.0C437.2,1575.1 439.1,1568.4 440.9,1562.1C442.7,1555.9 444.5,1549.9 446.3,1544.6C448.1,1539.3 450.0,1534.7 451.8,1530.3C453.6,1525.9 455.4,1522.3 457.2,1518.3C459.0,1514.4 460.9,1510.0 462.7,1506.4C464.5,1502.8 466.3,1499.6 468.1,1496.8C469.9,1494.1 471.8,1491.5 473.6,1489.7C475.4,1487.8 477.2,1486.5 479.0,1485.7C480.8,1484.9 482.7,1484.6 484.5,1485.1C486.3,1485.6 488.1,1486.8 489.9,1488.5C491.7,1490.1 493.6,1492.1 495.4,1495.0C497.2,1498.0 499.0,1502.2 500.8,1506.4C502.6,1510.6 504.5,1515.4 506.3,1520.3C508.1,1525.3 509.9,1530.9 511.7,1536.2C513.5,1541.6 515.4,1546.9 517.2,1552.2C519.0,1557.5 520.8,1562.8 522.6,1568.1C524.4,1573.4 526.3,1578.7 528.1,1584.0C529.9,1589.3 531.7,1594.6 533.5,1599.9C535.3,1605.2 537.2,1610.9 539.0,1615.9C540.8,1620.8 542.6,1625.8 544.4,1629.8C546.2,1633.8 548.1,1636.8 549.9,1639.8C551.7,1642.7 553.5,1645.6 555.3,1647.7C557.1,1649.8 559.0,1651.4 560.8,1652.3C562.6,1653.2 564.4,1653.7 566.2,1653.1C568.0,1652.5 569.9,1650.9 571.7,1648.7C573.5,1646.5 575.3,1643.6 577.1,1639.8C579.0,1635.9 580.8,1630.8 582.6,1625.8C584.4,1620.8 586.2,1615.5 588.0,1609.9C589.9,1604.2 591.7,1598.3 593.5,1592.0C595.3,1585.7 597.1,1578.4 598.9,1572.1C600.8,1565.8 602.6,1559.8 604.4,1554.2C606.2,1548.5 608.0,1543.2 609.8,1538.2C611.7,1533.3 613.5,1528.7 615.3,1524.7C617.1,1520.7 618.9,1517.4 620.7,1514.4C622.6,1511.3 624.4,1508.7 626.2,1506.4C628.0,1504.1 629.8,1502.2 631.6,1500.4C633.5,1498.7 635.3,1497.5 637.1,1496.0C638.9,1494.6 640.7,1492.5 642.5,1491.7C644.4,1490.8 646.2,1490.2 648.0,1490.9C649.8,1491.5 651.6,1493.5 653.4,1495.5C655.3,1497.4 657.1,1499.6 658.9,1502.4C660.7,1505.2 662.5,1508.7 664.3,1512.4C666.2,1516.0 668.0,1520.0 669.8,1524.3C671.6,1528.6 673.4,1533.6 675.2,1538.2C677.1,1542.9 678.9,1547.2 680.7,1552.2C682.5,1557.1 684.3,1562.8 686.1,1568.1C688.0,1573.4 689.8,1578.7 691.6,1584.0C693.4,1589.3 695.2,1595.0 697.0,1599.9C698.9,1604.9 700.7,1609.5 702.5,1613.9C704.3,1618.2 706.1,1622.4 708.0,1626.2C709.8,1630.0 711.6,1633.7 713.4,1636.8C715.2,1639.8 717.0,1642.5 718.9,1644.7C720.7,1646.9 722.5,1649.0 724.3,1649.9C726.1,1650.8 727.9,1651.0 729.8,1650.1C731.6,1649.2 733.4,1647.4 735.2,1644.7C737.0,1642.1 738.8,1638.6 740.6,1634.2C742.5,1629.7 744.3,1623.6 746.1,1617.8C747.9,1612.1 749.7,1605.9 751.5,1599.9C753.4,1594.0 755.2,1588.0 757.0,1582.0C758.8,1576.1 760.6,1570.1 762.5,1564.1C764.3,1558.1 766.1,1551.7 767.9,1546.2C769.7,1540.7 771.5,1535.6 773.4,1531.3C775.2,1527.0 777.0,1523.5 778.8,1520.3C780.6,1517.2 782.4,1514.5 784.2,1512.4C786.1,1510.2 787.9,1508.7 789.7,1507.4C791.5,1506.1 793.3,1505.4 795.2,1504.8C797.0,1504.2 798.8,1504.0 800.6,1503.8C802.4,1503.6 804.2,1503.3 806.1,1503.6C807.9,1503.9 809.7,1504.3 811.5,1505.4C813.3,1506.5 815.1,1508.2 817.0,1510.4C818.8,1512.5 820.6,1515.4 822.4,1518.3C824.2,1521.3 826.0,1524.6 827.9,1528.3C829.7,1531.9 831.5,1536.2 833.3,1540.2C835.1,1544.2 836.9,1548.2 838.8,1552.2C840.6,1556.2 842.4,1560.1 844.2,1564.1C846.0,1568.1 847.8,1572.1 849.7,1576.1C851.5,1580.0 853.3,1584.2 855.1,1588.0C856.9,1591.8 858.7,1595.5 860.6,1599.0C862.4,1602.4 864.2,1605.8 866.0,1608.9C867.8,1612.1 869.6,1615.0 871.5,1617.8C873.3,1620.7 875.1,1623.7 876.9,1625.8C878.7,1627.9 880.5,1629.4 882.4,1630.4C884.2,1631.4 886.0,1631.9 887.8,1631.8C889.6,1631.7 891.4,1631.1 893.3,1629.8C895.1,1628.5 896.9,1626.5 898.7,1623.8C900.5,1621.2 902.4,1617.5 904.2,1613.9C906.0,1610.2 907.8,1605.9 909.6,1601.9C911.4,1598.0 913.3,1594.0 915.1,1590.0C916.9,1586.0 918.7,1582.0 920.5,1578.0C922.3,1574.1 924.2,1570.1 926.0,1566.1C927.8,1562.1 929.6,1558.2 931.4,1554.2C933.2,1550.2 935.1,1546.0 936.9,1542.2C938.7,1538.4 940.5,1534.6 942.3,1531.3C944.1,1528.0 946.0,1525.0 947.8,1522.3C949.6,1519.7 951.4,1517.3 953.2,1515.3C955.0,1513.4 956.9,1511.7 958.7,1510.4C960.5,1509.1 962.3,1508.1 964.1,1507.4C965.9,1506.7 967.8,1506.4 969.6,1506.4C971.4,1506.4 973.2,1506.6 975.0,1507.4C976.8,1508.2 978.7,1510.0 980.5,1511.4C982.3,1512.7 984.1,1513.8 985.9,1515.3C987.7,1516.9 989.6,1518.5 991.4,1520.7C993.2,1523.0 995.0,1525.7 996.8,1528.7C998.6,1531.7 1000.5,1534.7 1002.3,1538.6C1004.1,1542.6 1005.9,1547.7 1007.7,1552.6C1009.5,1557.5 1011.4,1562.9 1013.2,1568.1C1015.0,1573.3 1016.8,1578.7 1018.6,1584.0C1020.4,1589.3 1022.3,1595.0 1024.1,1599.9C1025.9,1604.9 1027.7,1609.4 1029.5,1613.9C1031.3,1618.3 1033.2,1622.8 1035.0,1626.8C1036.8,1630.8 1038.6,1634.9 1040.4,1637.8C1042.2,1640.6 1044.1,1642.3 1045.9,1643.9C1047.7,1645.5 1049.5,1646.9 1051.3,1647.3C1053.1,1647.7 1055.0,1647.4 1056.8,1646.1C1058.6,1644.8 1060.4,1642.4 1062.2,1639.3C1064.0,1636.3 1065.9,1632.4 1067.7,1627.8C1069.5,1623.2 1071.3,1617.5 1073.1,1611.9C1074.9,1606.2 1076.8,1599.9 1078.6,1594.0C1080.4,1588.0 1082.2,1582.0 1084.0,1576.1C1085.8,1570.1 1087.7,1563.8 1089.5,1558.2C1091.3,1552.5 1093.1,1547.5 1094.9,1542.2C1096.7,1537.0 1098.6,1531.6 1100.4,1526.7C1102.2,1521.8 1104.0,1516.8 1105.8,1512.8C1107.6,1508.8 1109.5,1505.5 1111.3,1502.8C1113.1,1500.2 1114.9,1498.5 1116.7,1496.8C1118.5,1495.2 1120.4,1494.1 1122.2,1492.9C1124.0,1491.7 1125.8,1490.6 1127.6,1489.7C1129.5,1488.8 1131.3,1488.0 1133.1,1487.5C1134.9,1487.0 1136.7,1486.3 1138.5,1486.5C1140.4,1486.7 1142.2,1486.8 1144.0,1488.5C1145.8,1490.1 1147.6,1492.8 1149.4,1496.5C1151.3,1500.1 1153.1,1504.7 1154.9,1510.4C1156.7,1516.0 1158.5,1523.3 1160.3,1530.3C1162.2,1537.2 1164.0,1544.9 1165.8,1552.2C1167.6,1559.5 1169.4,1566.8 1171.2,1574.1C1173.1,1581.4 1174.9,1588.7 1176.7,1596.0C1178.5,1603.3 1180.3,1611.0 1182.1,1617.8C1184.0,1624.6 1185.8,1631.1 1187.6,1636.8C1189.4,1642.4 1191.2,1647.2 1193.0,1651.7C1194.9,1656.2 1196.7,1660.4 1198.5,1663.6C1200.3,1666.8 1202.1,1669.4 1203.9,1670.8C1205.8,1672.2 1207.6,1672.7 1209.4,1672.2C1211.2,1671.7 1213.0,1670.0 1214.8,1667.6C1216.7,1665.2 1218.5,1662.0 1220.3,1657.7C1222.1,1653.3 1223.9,1647.7 1225.7,1641.7C1227.6,1635.8 1229.4,1628.8 1231.2,1621.8C1233.0,1614.9 1234.8,1607.5 1236.7,1599.9C1238.5,1592.4 1240.3,1584.1 1242.1,1576.5C1243.9,1568.8 1245.7,1561.2 1247.5,1554.2C1249.4,1547.1 1251.2,1540.6 1253.0,1534.3C1254.8,1528.0 1256.6,1521.9 1258.5,1516.3C1260.3,1510.8 1262.1,1505.5 1263.9,1500.8C1265.7,1496.2 1267.5,1492.1 1269.3,1488.5C1271.2,1484.8 1273.0,1481.6 1274.8,1478.9C1276.6,1476.3 1278.4,1474.3 1280.2,1472.6C1282.1,1470.8 1284.8,1469.2 1285.7,1468.6"/>
<path stroke="#ff0000" d="M195.6,1563.1C196.0,1559.7 200.3,1518.8 201.1,1512.4C201.8,1505.9 205.8,1471.2 206.5,1466.6C207.2,1461.9 211.2,1445.2 211.9,1442.7C212.7,1440.3 216.7,1431.1 217.4,1429.8C218.1,1428.4 222.1,1423.4 222.8,1422.8C223.6,1422.2 227.6,1420.0 228.3,1420.2C229.0,1420.4 233.0,1424.7 233.8,1425.8C234.5,1426.9 238.5,1435.3 239.2,1436.7C239.9,1438.2 243.9,1446.6 244.7,1447.7C245.4,1448.7 249.4,1452.0 250.1,1452.7C250.8,1453.3 254.8,1455.9 255.6,1457.6C256.3,1459.4 260.3,1475.0 261.0,1478.5C261.7,1482.0 265.7,1504.5 266.5,1510.4C267.2,1516.2 271.2,1559.5 271.9,1566.1C272.6,1572.7 276.6,1605.0 277.4,1609.9C278.1,1614.8 282.1,1635.8 282.8,1639.8C283.5,1643.7 287.5,1665.2 288.3,1669.6C289.0,1674.0 293.0,1701.3 293.7,1705.4C294.4,1709.5 298.4,1728.7 299.2,1731.3C299.9,1733.9 303.9,1744.7 304.6,1744.8C305.3,1745.0 309.3,1735.8 310.1,1733.3C310.8,1730.8 314.8,1710.6 315.5,1707.4C316.2,1704.2 320.2,1687.4 321.0,1685.5C321.7,1683.6 325.7,1679.7 326.4,1678.6C327.1,1677.4 331.1,1671.2 331.9,1668.6C332.6,1666.0 336.6,1645.1 337.3,1639.8C338.0,1634.4 342.0,1594.0 342.8,1588.0C343.5,1582.0 347.5,1552.6 348.2,1549.2C348.9,1545.8 352.9,1538.2 353.7,1537.2C354.4,1536.3 358.4,1536.1 359.1,1535.3C359.8,1534.4 363.8,1527.1 364.6,1524.3C365.3,1521.5 369.3,1499.7 370.0,1493.5C370.7,1487.2 374.7,1437.2 375.5,1430.8C376.2,1424.3 380.2,1398.5 380.9,1396.5C381.6,1394.6 385.6,1399.0 386.4,1401.9C387.1,1404.9 391.1,1436.0 391.8,1440.7C392.5,1445.4 396.5,1469.8 397.3,1472.6C398.0,1475.3 402.0,1482.2 402.7,1481.5C403.4,1480.9 407.4,1465.1 408.2,1462.6C408.9,1460.1 412.9,1445.6 413.6,1444.3C414.3,1443.0 418.3,1441.4 419.1,1443.3C419.8,1445.2 423.8,1467.2 424.5,1472.6C425.2,1478.0 429.2,1516.9 430.0,1524.3C430.7,1531.7 434.7,1577.1 435.4,1584.0C436.1,1590.9 440.1,1622.9 440.9,1627.8C441.6,1632.7 445.6,1654.9 446.3,1657.7C447.0,1660.4 451.0,1668.3 451.8,1669.6C452.5,1670.9 456.5,1676.2 457.2,1677.6C457.9,1678.9 461.9,1687.6 462.7,1689.5C463.4,1691.4 467.4,1703.4 468.1,1705.4C468.8,1707.5 472.9,1719.4 473.6,1720.3C474.3,1721.3 478.3,1720.8 479.0,1720.0C479.8,1719.1 483.8,1708.8 484.5,1707.0C485.2,1705.2 489.2,1694.8 489.9,1693.1C490.7,1691.4 494.7,1683.2 495.4,1681.5C496.1,1679.8 500.1,1670.4 500.8,1667.6C501.6,1664.8 505.6,1645.5 506.3,1639.8C507.0,1634.0 511.0,1589.3 511.7,1582.0C512.5,1574.7 516.5,1535.9 517.2,1530.3C517.9,1524.7 521.9,1501.8 522.6,1498.4C523.4,1495.1 527.4,1482.4 528.1,1480.5C528.8,1478.6 532.8,1471.4 533.5,1469.6C534.3,1467.7 538.3,1455.6 539.0,1452.7C539.7,1449.7 543.7,1427.7 544.4,1424.8C545.2,1421.9 549.2,1409.3 549.9,1408.5C550.6,1407.7 554.6,1411.1 555.3,1412.8C556.1,1414.6 560.1,1432.2 560.8,1435.2C561.5,1438.1 565.5,1454.6 566.2,1456.6C567.0,1458.6 571.0,1464.5 571.7,1465.2C572.4,1465.9 576.4,1466.7 577.1,1467.6C577.9,1468.5 581.9,1475.5 582.6,1478.5C583.3,1481.5 587.3,1506.5 588.0,1512.4C588.8,1518.2 592.8,1559.1 593.5,1566.1C594.2,1573.1 598.2,1612.0 598.9,1617.8C599.7,1623.7 603.7,1651.0 604.4,1653.7C605.1,1656.3 609.1,1658.6 609.8,1657.7C610.6,1656.7 614.6,1641.9 615.3,1639.8C616.0,1637.6 620.0,1625.2 620.7,1624.8C621.5,1624.4 625.5,1631.1 626.2,1633.8C626.9,1636.5 630.9,1659.3 631.6,1665.6C632.4,1672.0 636.4,1722.9 637.1,1729.3C637.8,1735.7 641.8,1761.0 642.5,1762.2C643.3,1763.3 647.3,1752.5 648.0,1747.2C648.7,1742.0 652.7,1691.2 653.4,1683.5C654.2,1675.8 658.2,1637.2 658.9,1631.8C659.6,1626.3 663.6,1604.5 664.3,1601.9C665.1,1599.4 669.1,1595.3 669.8,1594.0C670.5,1592.6 674.5,1586.1 675.2,1582.0C676.0,1577.9 680.0,1540.1 680.7,1532.3C681.4,1524.4 685.4,1471.9 686.1,1464.6C686.9,1457.3 690.9,1426.0 691.6,1422.8C692.3,1419.6 696.3,1414.9 697.0,1416.8C697.8,1418.8 701.8,1447.4 702.5,1451.7C703.2,1456.0 707.2,1479.1 708.0,1481.5C708.7,1483.9 712.7,1488.2 713.4,1487.5C714.1,1486.8 718.1,1472.6 718.9,1470.6C719.6,1468.5 723.6,1457.3 724.3,1457.0C725.0,1456.8 729.0,1463.8 729.8,1466.6C730.5,1469.3 734.5,1494.7 735.2,1498.4C735.9,1502.2 739.9,1520.2 740.6,1522.3C741.4,1524.4 745.4,1529.1 746.1,1529.7C746.8,1530.2 750.8,1529.8 751.5,1530.7C752.3,1531.5 756.3,1539.5 757.0,1542.2C757.7,1545.0 761.7,1567.0 762.5,1572.1C763.2,1577.1 767.2,1612.5 767.9,1617.8C768.6,1623.2 772.6,1649.2 773.4,1652.7C774.1,1656.1 778.1,1668.0 778.8,1669.6C779.5,1671.2 783.5,1676.2 784.2,1677.2C785.0,1678.1 789.0,1682.5 789.7,1683.5C790.4,1684.6 794.4,1691.7 795.2,1692.5C795.9,1693.3 799.9,1695.3 800.6,1695.1C801.3,1694.9 805.3,1690.9 806.1,1689.1C806.8,1687.3 810.8,1670.4 811.5,1667.6C812.2,1664.8 816.2,1650.4 817.0,1647.7C817.7,1645.1 821.7,1630.5 822.4,1627.8C823.1,1625.2 827.1,1610.7 827.9,1607.9C828.6,1605.1 832.6,1589.7 833.3,1586.0C834.0,1582.3 838.0,1557.1 838.8,1552.2C839.5,1547.2 843.5,1516.9 844.2,1512.0C844.9,1507.0 848.9,1481.3 849.7,1477.5C850.4,1473.8 854.4,1457.9 855.1,1456.2C855.8,1454.6 859.8,1452.5 860.6,1452.7C861.3,1452.8 865.3,1457.7 866.0,1458.2C866.7,1458.8 870.7,1461.1 871.5,1460.6C872.2,1460.1 876.2,1452.3 876.9,1451.1C877.6,1449.8 881.6,1442.1 882.4,1442.1C883.1,1442.1 887.1,1447.8 887.8,1450.7C888.5,1453.5 892.5,1479.4 893.3,1484.5C894.0,1489.6 898.0,1522.6 898.7,1527.3C899.4,1532.0 903.4,1553.0 904.2,1554.6C904.9,1556.1 908.9,1551.8 909.6,1550.8C910.3,1549.8 914.3,1540.3 915.1,1539.8C915.8,1539.4 919.8,1541.3 920.5,1544.2C921.2,1547.1 925.2,1577.4 926.0,1583.0C926.7,1588.6 930.7,1622.8 931.4,1627.8C932.1,1632.8 936.1,1656.1 936.9,1658.3C937.6,1660.4 941.6,1661.1 942.3,1660.7C943.0,1660.2 947.0,1651.9 947.8,1651.7C948.5,1651.5 952.5,1655.5 953.2,1657.7C953.9,1659.8 957.9,1680.2 958.7,1683.5C959.4,1686.9 963.4,1705.7 964.1,1707.8C964.8,1709.9 968.8,1715.9 969.6,1715.0C970.3,1714.1 974.3,1698.7 975.0,1694.5C975.7,1690.3 979.7,1657.9 980.5,1651.7C981.2,1645.5 985.2,1607.0 985.9,1600.9C986.6,1594.9 990.6,1565.1 991.4,1561.1C992.1,1557.1 996.1,1542.8 996.8,1541.2C997.5,1539.7 1001.5,1537.3 1002.3,1537.7C1003.0,1538.0 1007.0,1545.5 1007.7,1546.2C1008.4,1546.9 1012.5,1549.9 1013.2,1548.6C1013.9,1547.3 1017.9,1530.6 1018.6,1526.3C1019.4,1522.0 1023.4,1490.1 1024.1,1484.5C1024.8,1478.9 1028.8,1447.2 1029.5,1442.7C1030.3,1438.3 1034.3,1419.0 1035.0,1417.8C1035.7,1416.7 1039.7,1423.3 1040.4,1425.8C1041.2,1428.3 1045.2,1452.0 1045.9,1455.7C1046.6,1459.3 1050.6,1478.4 1051.3,1480.9C1052.1,1483.5 1056.1,1492.9 1056.8,1494.1C1057.5,1495.3 1061.5,1497.9 1062.2,1499.0C1063.0,1500.2 1067.0,1508.8 1067.7,1511.4C1068.4,1514.0 1072.4,1534.4 1073.1,1538.2C1073.9,1542.1 1077.9,1564.9 1078.6,1569.1C1079.3,1573.3 1083.3,1596.8 1084.0,1600.9C1084.8,1605.1 1088.8,1627.3 1089.5,1631.8C1090.2,1636.2 1094.2,1662.8 1094.9,1667.6C1095.7,1672.5 1099.7,1699.9 1100.4,1704.4C1101.1,1708.9 1105.1,1733.5 1105.8,1735.3C1106.6,1737.1 1110.6,1734.0 1111.3,1731.7C1112.0,1729.4 1116.0,1706.2 1116.7,1701.5C1117.5,1696.7 1121.5,1665.6 1122.2,1660.7C1122.9,1655.7 1126.9,1630.5 1127.6,1627.4C1128.4,1624.4 1132.4,1615.8 1133.1,1614.9C1133.8,1614.0 1137.8,1613.0 1138.5,1613.9C1139.3,1614.7 1143.3,1626.2 1144.0,1627.8C1144.7,1629.4 1148.7,1637.6 1149.4,1637.8C1150.2,1637.9 1154.2,1633.0 1154.9,1629.8C1155.6,1626.6 1159.6,1597.8 1160.3,1590.0C1161.1,1582.2 1165.1,1522.2 1165.8,1512.4C1166.5,1502.6 1170.5,1449.6 1171.2,1442.7C1172.0,1435.8 1176.0,1411.0 1176.7,1408.5C1177.4,1405.9 1181.4,1403.8 1182.1,1404.3C1182.9,1404.8 1186.9,1414.9 1187.6,1415.8C1188.3,1416.8 1192.3,1419.3 1193.0,1418.4C1193.8,1417.6 1197.8,1404.9 1198.5,1402.9C1199.2,1400.9 1203.2,1388.9 1203.9,1389.0C1204.7,1389.0 1208.7,1399.7 1209.4,1403.9C1210.1,1408.1 1214.1,1446.1 1214.8,1452.7C1215.6,1459.2 1219.6,1496.9 1220.3,1502.4C1221.0,1507.9 1225.0,1532.1 1225.7,1535.3C1226.5,1538.4 1230.5,1548.2 1231.2,1549.8C1231.9,1551.4 1235.9,1556.5 1236.7,1559.1C1237.4,1561.8 1241.4,1583.8 1242.1,1589.0C1242.8,1594.2 1246.8,1630.5 1247.5,1636.8C1248.3,1643.1 1252.3,1678.0 1253.0,1683.5C1253.7,1689.1 1257.7,1717.6 1258.5,1720.3C1259.2,1723.1 1263.2,1725.4 1263.9,1724.9C1264.6,1724.5 1268.6,1715.1 1269.3,1713.4C1270.1,1711.7 1274.1,1700.8 1274.8,1699.5C1275.5,1698.1 1279.5,1694.0 1280.2,1693.5C1281.0,1693.0 1285.3,1692.2 1285.7,1692.1"/>
<path stroke="#00dc00" d="M195.6,1468.6C196.5,1470.9 199.2,1476.2 201.1,1482.5C202.9,1488.8 204.7,1498.1 206.5,1506.4C208.3,1514.7 210.1,1523.1 211.9,1532.3C213.8,1541.4 215.6,1551.2 217.4,1561.1C219.2,1571.1 221.0,1581.9 222.8,1592.0C224.7,1602.1 226.5,1612.9 228.3,1621.8C230.1,1630.8 231.9,1639.1 233.8,1645.7C235.6,1652.4 237.4,1657.0 239.2,1661.6C241.0,1666.3 242.8,1670.3 244.7,1673.6C246.5,1676.9 248.3,1679.6 250.1,1681.5C251.9,1683.5 253.7,1685.1 255.6,1685.1C257.4,1685.1 259.2,1684.1 261.0,1681.5C262.8,1679.0 264.6,1675.2 266.5,1669.6C268.3,1664.0 270.1,1655.7 271.9,1647.7C273.7,1639.7 275.5,1631.0 277.4,1621.8C279.2,1612.7 281.0,1601.9 282.8,1593.0C284.6,1584.0 286.4,1575.6 288.3,1568.1C290.1,1560.6 291.9,1554.2 293.7,1548.2C295.5,1542.2 297.3,1537.2 299.2,1532.3C301.0,1527.3 302.8,1522.7 304.6,1518.3C306.4,1514.0 308.2,1510.0 310.1,1506.4C311.9,1502.8 313.7,1499.5 315.5,1496.8C317.3,1494.2 319.1,1492.3 321.0,1490.5C322.8,1488.7 324.6,1487.4 326.4,1486.1C328.2,1484.8 330.0,1483.8 331.9,1482.5C333.7,1481.2 335.5,1479.4 337.3,1478.1C339.1,1476.9 340.9,1475.3 342.8,1475.0C344.6,1474.6 346.4,1474.6 348.2,1476.2C350.0,1477.7 351.8,1480.8 353.7,1484.5C355.5,1488.2 357.3,1492.1 359.1,1498.4C360.9,1504.7 362.8,1514.4 364.6,1522.3C366.4,1530.3 368.2,1537.9 370.0,1546.2C371.8,1554.5 373.7,1563.5 375.5,1572.1C377.3,1580.7 379.1,1589.7 380.9,1598.0C382.7,1606.2 384.6,1614.2 386.4,1621.8C388.2,1629.5 390.0,1637.6 391.8,1643.7C393.6,1649.9 395.5,1654.6 397.3,1658.7C399.1,1662.7 400.9,1665.6 402.7,1668.0C404.5,1670.4 406.4,1672.4 408.2,1673.2C410.0,1674.0 411.8,1674.2 413.6,1673.0C415.4,1671.7 417.3,1669.5 419.1,1665.6C420.9,1661.7 422.7,1655.8 424.5,1649.7C426.3,1643.6 428.2,1635.8 430.0,1628.8C431.8,1621.8 433.6,1614.2 435.4,1607.9C437.2,1601.6 439.1,1596.6 440.9,1591.0C442.7,1585.4 444.5,1579.9 446.3,1574.1C448.1,1568.3 450.0,1562.1 451.8,1556.2C453.6,1550.3 455.4,1543.9 457.2,1538.6C459.0,1533.3 460.9,1528.6 462.7,1524.3C464.5,1520.0 466.3,1516.1 468.1,1512.8C469.9,1509.5 471.8,1506.9 473.6,1504.4C475.4,1502.0 477.2,1499.9 479.0,1498.0C480.8,1496.2 482.7,1494.5 484.5,1493.3C486.3,1492.0 488.1,1490.7 489.9,1490.5C491.7,1490.2 493.6,1490.8 495.4,1491.7C497.2,1492.5 499.0,1494.3 500.8,1495.5C502.6,1496.6 504.5,1497.3 506.3,1498.4C508.1,1499.6 509.9,1500.6 511.7,1502.4C513.5,1504.2 515.4,1506.1 517.2,1509.4C519.0,1512.7 520.8,1517.2 522.6,1522.3C524.4,1527.5 526.3,1533.9 528.1,1540.2C529.9,1546.5 531.7,1553.2 533.5,1560.1C535.3,1567.1 537.2,1574.7 539.0,1582.0C540.8,1589.3 542.6,1597.0 544.4,1603.9C546.2,1610.9 548.1,1617.5 549.9,1623.8C551.7,1630.1 553.5,1636.8 555.3,1641.7C557.1,1646.7 559.0,1650.6 560.8,1653.7C562.6,1656.7 564.4,1658.8 566.2,1660.0C568.0,1661.3 569.9,1661.3 571.7,1661.0C573.5,1660.8 575.3,1660.2 577.1,1658.7C579.0,1657.1 580.8,1655.0 582.6,1651.7C584.4,1648.4 586.2,1644.1 588.0,1638.8C589.9,1633.4 591.7,1626.6 593.5,1619.8C595.3,1613.0 597.1,1604.9 598.9,1598.0C600.8,1591.0 602.6,1584.0 604.4,1578.0C606.2,1572.1 608.0,1566.8 609.8,1562.1C611.7,1557.4 613.5,1553.8 615.3,1549.8C617.1,1545.8 618.9,1542.5 620.7,1538.2C622.6,1534.0 624.4,1528.6 626.2,1524.3C628.0,1520.0 629.8,1515.7 631.6,1512.4C633.5,1509.1 635.3,1506.3 637.1,1504.4C638.9,1502.5 640.7,1501.5 642.5,1500.8C644.4,1500.2 646.2,1500.5 648.0,1500.4C649.8,1500.4 651.6,1500.8 653.4,1500.4C655.3,1500.1 657.1,1499.0 658.9,1498.4C660.7,1497.8 662.5,1496.8 664.3,1496.8C666.2,1496.9 668.0,1497.2 669.8,1498.8C671.6,1500.5 673.4,1502.9 675.2,1506.8C677.1,1510.7 678.9,1516.4 680.7,1522.3C682.5,1528.2 684.3,1535.6 686.1,1542.2C688.0,1548.9 689.8,1555.2 691.6,1562.1C693.4,1569.1 695.2,1577.1 697.0,1584.0C698.9,1591.0 700.7,1597.6 702.5,1603.9C704.3,1610.2 706.1,1616.5 708.0,1621.8C709.8,1627.1 711.6,1631.8 713.4,1635.8C715.2,1639.8 717.0,1643.1 718.9,1645.7C720.7,1648.4 722.5,1650.4 724.3,1651.7C726.1,1653.0 727.9,1653.7 729.8,1653.7C731.6,1653.7 733.4,1653.1 735.2,1651.7C737.0,1650.3 738.8,1648.6 740.6,1645.3C742.5,1642.0 744.3,1637.4 746.1,1631.8C747.9,1626.2 749.7,1618.7 751.5,1611.9C753.4,1605.1 755.2,1597.8 757.0,1591.0C758.8,1584.2 760.6,1577.5 762.5,1571.1C764.3,1564.6 766.1,1558.0 767.9,1552.2C769.7,1546.4 771.5,1541.2 773.4,1536.2C775.2,1531.3 777.0,1526.3 778.8,1522.3C780.6,1518.3 782.4,1515.1 784.2,1512.4C786.1,1509.7 787.9,1507.8 789.7,1506.2C791.5,1504.6 793.3,1503.8 795.2,1503.0C797.0,1502.2 798.8,1501.8 800.6,1501.4C802.4,1501.1 804.2,1500.5 806.1,1500.8C807.9,1501.2 809.7,1501.8 811.5,1503.4C813.3,1505.1 815.1,1508.0 817.0,1510.8C818.8,1513.6 820.6,1517.4 822.4,1520.3C824.2,1523.2 826.0,1526.5 827.9,1528.3C829.7,1530.1 831.5,1530.3 833.3,1531.3C835.1,1532.3 836.9,1532.8 838.8,1534.3C840.6,1535.7 842.4,1536.8 844.2,1539.8C846.0,1542.9 847.8,1547.2 849.7,1552.6C851.5,1557.9 853.3,1566.2 855.1,1572.1C856.9,1578.0 858.7,1583.4 860.6,1588.0C862.4,1592.6 864.2,1596.6 866.0,1599.9C867.8,1603.3 869.6,1605.7 871.5,1608.3C873.3,1610.9 875.1,1613.0 876.9,1615.3C878.7,1617.5 880.5,1619.9 882.4,1621.8C884.2,1623.8 886.0,1625.7 887.8,1627.0C889.6,1628.3 891.4,1629.1 893.3,1629.4C895.1,1629.7 896.9,1629.4 898.7,1628.6C900.5,1627.8 902.4,1626.6 904.2,1624.8C906.0,1623.0 907.8,1620.7 909.6,1617.8C911.4,1615.0 913.3,1611.5 915.1,1607.9C916.9,1604.3 918.7,1600.3 920.5,1596.4C922.3,1592.4 924.2,1587.7 926.0,1584.0C927.8,1580.3 929.6,1577.1 931.4,1574.1C933.2,1571.0 935.1,1568.4 936.9,1565.7C938.7,1563.1 940.5,1560.7 942.3,1558.2C944.1,1555.6 946.0,1552.5 947.8,1550.2C949.6,1547.9 951.4,1545.9 953.2,1544.2C955.0,1542.6 956.9,1541.3 958.7,1540.2C960.5,1539.2 962.3,1538.9 964.1,1538.0C965.9,1537.2 967.8,1536.4 969.6,1535.1C971.4,1533.8 973.2,1532.1 975.0,1530.3C976.8,1528.5 978.7,1526.1 980.5,1524.3C982.3,1522.5 984.1,1520.7 985.9,1519.3C987.7,1518.0 989.6,1517.0 991.4,1516.3C993.2,1515.7 995.0,1515.7 996.8,1515.5C998.6,1515.4 1000.5,1515.2 1002.3,1515.3C1004.1,1515.5 1005.9,1515.7 1007.7,1516.5C1009.5,1517.4 1011.4,1518.4 1013.2,1520.7C1015.0,1523.0 1016.8,1526.3 1018.6,1530.3C1020.4,1534.3 1022.3,1539.3 1024.1,1544.6C1025.9,1549.9 1027.7,1556.2 1029.5,1562.1C1031.3,1568.0 1033.2,1574.1 1035.0,1580.0C1036.8,1586.0 1038.6,1592.0 1040.4,1598.0C1042.2,1603.9 1044.1,1610.3 1045.9,1615.5C1047.7,1620.6 1049.5,1625.2 1051.3,1628.8C1053.1,1632.4 1055.0,1635.6 1056.8,1637.2C1058.6,1638.7 1060.4,1638.7 1062.2,1638.0C1064.0,1637.2 1065.9,1635.0 1067.7,1632.8C1069.5,1630.6 1071.3,1627.6 1073.1,1624.8C1074.9,1622.0 1076.8,1618.9 1078.6,1615.9C1080.4,1612.8 1082.2,1609.7 1084.0,1606.3C1085.8,1602.9 1087.7,1599.3 1089.5,1595.6C1091.3,1591.8 1093.1,1588.1 1094.9,1584.0C1096.7,1579.9 1098.6,1575.4 1100.4,1571.1C1102.2,1566.8 1104.0,1562.6 1105.8,1558.2C1107.6,1553.7 1109.5,1548.9 1111.3,1544.6C1113.1,1540.3 1114.9,1536.0 1116.7,1532.3C1118.5,1528.6 1120.4,1525.4 1122.2,1522.3C1124.0,1519.3 1125.8,1516.7 1127.6,1514.0C1129.5,1511.2 1131.3,1509.0 1133.1,1506.0C1134.9,1503.0 1136.7,1500.0 1138.5,1496.0C1140.4,1492.1 1142.2,1487.0 1144.0,1482.5C1145.8,1478.0 1147.6,1472.6 1149.4,1469.0C1151.3,1465.3 1153.1,1461.6 1154.9,1460.6C1156.7,1459.6 1158.5,1460.4 1160.3,1463.0C1162.2,1465.7 1164.0,1470.6 1165.8,1476.5C1167.6,1482.4 1169.4,1490.0 1171.2,1498.4C1173.1,1506.9 1174.9,1517.3 1176.7,1527.3C1178.5,1537.3 1180.3,1547.4 1182.1,1558.2C1184.0,1568.9 1185.8,1581.0 1187.6,1592.0C1189.4,1602.9 1191.2,1613.9 1193.0,1623.8C1194.9,1633.8 1196.7,1643.4 1198.5,1651.7C1200.3,1660.0 1202.1,1667.6 1203.9,1673.6C1205.8,1679.5 1207.6,1683.9 1209.4,1687.5C1211.2,1691.2 1213.0,1693.9 1214.8,1695.5C1216.7,1697.1 1218.5,1698.2 1220.3,1697.1C1222.1,1695.9 1223.9,1692.8 1225.7,1688.5C1227.6,1684.2 1229.4,1678.1 1231.2,1671.2C1233.0,1664.3 1234.8,1655.5 1236.7,1647.3C1238.5,1639.1 1240.3,1629.7 1242.1,1621.8C1243.9,1613.9 1245.7,1606.6 1247.5,1599.9C1249.4,1593.3 1251.2,1587.7 1253.0,1582.0C1254.8,1576.4 1256.6,1571.4 1258.5,1566.1C1260.3,1560.8 1262.1,1555.5 1263.9,1550.2C1265.7,1544.9 1267.5,1539.2 1269.3,1534.3C1271.2,1529.4 1273.0,1525.0 1274.8,1520.7C1276.6,1516.4 1278.4,1512.2 1280.2,1508.4C1282.1,1504.6 1284.8,1499.8 1285.7,1498.0"/>
<path stroke="#2020ff" d="M195.6,1628.8C196.1,1628.4 200.1,1623.1 201.1,1623.8C202.0,1624.6 205.6,1634.6 206.5,1637.8C207.4,1640.9 211.0,1658.0 211.9,1661.6C212.9,1665.3 216.5,1679.2 217.4,1681.5C218.3,1683.9 221.9,1689.8 222.8,1689.5C223.8,1689.2 227.4,1681.5 228.3,1677.6C229.2,1673.6 232.8,1648.9 233.8,1641.7C234.7,1634.6 238.3,1600.3 239.2,1592.0C240.1,1583.7 243.7,1549.7 244.7,1542.2C245.6,1534.8 249.2,1508.2 250.1,1502.4C251.0,1496.6 254.7,1476.9 255.6,1472.6C256.5,1468.2 260.1,1453.7 261.0,1450.7C261.9,1447.7 265.6,1438.5 266.5,1436.7C267.4,1435.0 271.0,1430.6 271.9,1429.8C272.8,1429.0 276.5,1427.2 277.4,1427.2C278.3,1427.2 281.9,1429.1 282.8,1429.8C283.7,1430.4 287.4,1434.2 288.3,1435.2C289.2,1436.1 292.8,1440.1 293.7,1441.7C294.6,1443.3 298.3,1451.2 299.2,1454.7C300.1,1458.1 303.7,1476.5 304.6,1482.5C305.5,1488.6 309.2,1519.0 310.1,1527.3C311.0,1535.6 314.6,1573.6 315.5,1582.0C316.4,1590.5 320.1,1622.2 321.0,1628.8C321.9,1635.4 325.5,1657.3 326.4,1661.6C327.3,1666.0 331.0,1679.1 331.9,1680.5C332.8,1682.0 336.4,1680.6 337.3,1679.5C338.2,1678.5 341.9,1669.8 342.8,1667.6C343.7,1665.5 347.3,1655.8 348.2,1653.7C349.1,1651.5 352.8,1642.8 353.7,1641.7C354.6,1640.7 358.2,1639.4 359.1,1640.7C360.0,1642.1 363.7,1654.6 364.6,1657.7C365.5,1660.7 369.1,1674.7 370.0,1677.6C370.9,1680.5 374.6,1691.7 375.5,1692.5C376.4,1693.3 380.0,1690.4 380.9,1687.5C381.8,1684.6 385.5,1664.6 386.4,1657.7C387.3,1650.7 390.9,1612.4 391.8,1603.9C392.7,1595.5 396.4,1563.2 397.3,1556.2C398.2,1549.1 401.8,1524.8 402.7,1519.3C403.6,1513.9 407.3,1495.2 408.2,1490.5C409.1,1485.8 412.7,1466.8 413.6,1462.6C414.5,1458.5 418.2,1444.0 419.1,1440.7C420.0,1437.4 423.6,1425.1 424.5,1422.8C425.4,1420.5 429.1,1414.1 430.0,1412.8C430.9,1411.6 434.5,1407.9 435.4,1407.5C436.3,1407.1 440.0,1406.9 440.9,1407.9C441.8,1408.8 445.4,1415.9 446.3,1418.8C447.2,1421.7 450.9,1437.4 451.8,1442.7C452.7,1448.0 456.3,1475.5 457.2,1482.5C458.1,1489.5 461.8,1518.9 462.7,1526.3C463.6,1533.7 467.2,1563.8 468.1,1571.1C469.0,1578.4 472.7,1607.2 473.6,1613.9C474.5,1620.6 478.1,1646.1 479.0,1651.7C479.9,1657.3 483.6,1678.1 484.5,1681.5C485.4,1685.0 489.0,1692.9 489.9,1693.5C490.8,1694.0 494.5,1690.1 495.4,1688.1C496.3,1686.1 499.9,1673.1 500.8,1669.6C501.7,1666.1 505.4,1649.1 506.3,1645.7C507.2,1642.3 510.8,1630.8 511.7,1628.8C512.6,1626.8 516.3,1621.9 517.2,1621.8C518.1,1621.8 521.7,1625.6 522.6,1628.2C523.5,1630.8 527.2,1648.6 528.1,1652.7C529.0,1656.8 532.6,1673.9 533.5,1677.6C534.4,1681.3 538.1,1695.8 539.0,1697.1C539.9,1698.3 543.5,1695.7 544.4,1692.5C545.3,1689.3 549.0,1666.1 549.9,1658.7C550.8,1651.2 554.4,1612.3 555.3,1602.9C556.2,1593.6 559.9,1554.6 560.8,1546.2C561.7,1537.8 565.3,1509.1 566.2,1502.4C567.1,1495.8 570.8,1472.0 571.7,1466.6C572.6,1461.1 576.2,1441.6 577.1,1437.1C578.0,1432.7 581.7,1415.8 582.6,1412.8C583.5,1409.9 587.1,1402.4 588.0,1401.3C588.9,1400.2 592.6,1398.9 593.5,1399.3C594.4,1399.8 598.0,1405.5 598.9,1406.9C599.8,1408.3 603.5,1414.3 604.4,1415.8C605.3,1417.4 608.9,1423.1 609.8,1425.2C610.7,1427.3 614.4,1436.9 615.3,1440.7C616.2,1444.5 619.8,1464.2 620.7,1470.6C621.6,1477.0 625.3,1509.7 626.2,1517.3C627.1,1525.0 630.7,1555.4 631.6,1562.1C632.5,1568.8 636.2,1592.3 637.1,1598.0C638.0,1603.6 641.6,1624.5 642.5,1629.8C643.4,1635.1 647.1,1656.7 648.0,1661.6C648.9,1666.5 652.5,1685.0 653.4,1688.5C654.3,1692.0 658.0,1703.2 658.9,1703.8C659.8,1704.4 663.4,1698.5 664.3,1695.9C665.2,1693.2 668.9,1675.3 669.8,1672.0C670.7,1668.7 674.3,1657.2 675.2,1656.1C676.1,1655.0 679.8,1656.5 680.7,1658.7C681.6,1660.8 685.2,1677.7 686.1,1681.5C687.1,1685.4 690.7,1702.2 691.6,1704.4C692.5,1706.7 696.1,1710.3 697.0,1708.4C698.0,1706.5 701.6,1688.8 702.5,1681.5C703.4,1674.3 707.0,1631.7 708.0,1621.8C708.9,1612.0 712.5,1571.4 713.4,1563.1C714.3,1554.8 717.9,1528.2 718.9,1522.3C719.8,1516.4 723.4,1496.7 724.3,1492.1C725.2,1487.4 728.8,1470.2 729.8,1466.6C730.7,1463.0 734.3,1450.9 735.2,1448.7C736.1,1446.4 739.7,1440.7 740.6,1439.7C741.6,1438.7 745.2,1437.0 746.1,1436.7C747.0,1436.5 750.6,1437.2 751.5,1437.1C752.5,1437.0 756.1,1436.0 757.0,1435.5C757.9,1435.1 761.5,1432.1 762.5,1431.8C763.4,1431.4 767.0,1431.0 767.9,1431.8C768.8,1432.5 772.4,1438.2 773.4,1441.1C774.3,1444.0 777.9,1461.3 778.8,1466.6C779.7,1471.9 783.3,1498.1 784.2,1504.4C785.2,1510.7 788.8,1535.8 789.7,1542.2C790.6,1548.7 794.3,1575.4 795.2,1582.0C796.1,1588.7 799.7,1615.7 800.6,1621.8C801.5,1628.0 805.2,1650.9 806.1,1655.7C807.0,1660.5 810.6,1676.7 811.5,1679.5C812.4,1682.4 816.1,1688.8 817.0,1689.5C817.9,1690.2 821.5,1689.3 822.4,1688.5C823.3,1687.7 827.0,1681.1 827.9,1680.0C828.8,1678.8 832.4,1674.4 833.3,1674.2C834.2,1673.9 837.9,1676.1 838.8,1676.8C839.7,1677.5 843.3,1681.7 844.2,1682.5C845.1,1683.4 848.8,1686.8 849.7,1687.1C850.6,1687.5 854.2,1687.3 855.1,1686.5C856.0,1685.7 859.7,1679.6 860.6,1677.6C861.5,1675.5 865.1,1665.2 866.0,1661.6C866.9,1658.1 870.6,1640.6 871.5,1634.8C872.4,1629.0 876.0,1599.7 876.9,1592.0C877.8,1584.3 881.5,1549.7 882.4,1542.2C883.3,1534.8 886.9,1508.2 887.8,1502.4C888.7,1496.6 892.4,1476.9 893.3,1472.6C894.2,1468.2 897.8,1454.0 898.7,1450.7C899.6,1447.4 903.3,1435.6 904.2,1432.8C905.1,1429.9 908.7,1419.1 909.6,1416.8C910.5,1414.6 914.2,1407.1 915.1,1405.9C916.0,1404.7 919.6,1402.5 920.5,1402.9C921.4,1403.3 925.1,1408.8 926.0,1410.9C926.9,1412.9 930.5,1424.5 931.4,1427.2C932.3,1429.8 936.0,1440.2 936.9,1442.7C937.8,1445.2 941.4,1454.2 942.3,1457.0C943.2,1459.9 946.9,1471.8 947.8,1476.5C948.7,1481.2 952.3,1506.2 953.2,1513.4C954.1,1520.5 957.8,1554.3 958.7,1562.1C959.6,1570.0 963.2,1601.3 964.1,1607.9C965.0,1614.5 968.7,1637.5 969.6,1641.7C970.5,1646.0 974.1,1657.3 975.0,1659.2C975.9,1661.2 979.6,1664.3 980.5,1665.2C981.4,1666.2 985.0,1669.7 985.9,1670.6C986.8,1671.5 990.5,1674.8 991.4,1675.6C992.3,1676.3 995.9,1679.4 996.8,1679.5C997.7,1679.7 1001.4,1677.8 1002.3,1677.2C1003.2,1676.5 1006.8,1672.0 1007.7,1671.6C1008.6,1671.2 1012.3,1672.1 1013.2,1672.6C1014.1,1673.1 1017.7,1676.8 1018.6,1677.6C1019.5,1678.3 1023.2,1682.4 1024.1,1681.9C1025.0,1681.4 1028.6,1675.2 1029.5,1671.6C1030.4,1668.0 1034.1,1645.4 1035.0,1638.8C1035.9,1632.1 1039.5,1599.2 1040.4,1592.0C1041.3,1584.8 1045.0,1558.3 1045.9,1552.2C1046.8,1546.0 1050.4,1523.8 1051.3,1518.3C1052.2,1512.9 1055.9,1491.4 1056.8,1486.5C1057.7,1481.6 1061.3,1463.2 1062.2,1459.0C1063.1,1454.9 1066.8,1439.5 1067.7,1436.7C1068.6,1434.0 1072.2,1426.7 1073.1,1426.0C1074.0,1425.2 1077.7,1426.4 1078.6,1427.8C1079.5,1429.1 1083.1,1439.5 1084.0,1442.3C1084.9,1445.1 1088.6,1458.6 1089.5,1461.6C1090.4,1464.6 1094.0,1475.9 1094.9,1478.1C1095.8,1480.4 1099.5,1486.8 1100.4,1488.5C1101.3,1490.2 1104.9,1496.0 1105.8,1498.4C1106.7,1500.9 1110.4,1514.1 1111.3,1518.3C1112.2,1522.6 1115.8,1543.5 1116.7,1549.2C1117.6,1554.9 1121.3,1580.6 1122.2,1587.0C1123.1,1593.4 1126.7,1619.8 1127.6,1625.8C1128.5,1631.8 1132.2,1654.8 1133.1,1659.2C1134.0,1663.7 1137.6,1677.4 1138.5,1679.2C1139.4,1680.9 1143.1,1681.6 1144.0,1680.2C1144.9,1678.7 1148.5,1665.2 1149.4,1661.6C1150.3,1658.1 1154.0,1641.1 1154.9,1637.8C1155.8,1634.4 1159.4,1622.6 1160.3,1621.0C1161.2,1619.5 1164.9,1618.0 1165.8,1619.0C1166.7,1620.1 1170.3,1630.6 1171.2,1634.2C1172.1,1637.7 1175.8,1657.9 1176.7,1661.6C1177.6,1665.4 1181.2,1678.0 1182.1,1679.5C1183.0,1681.1 1186.7,1682.5 1187.6,1680.2C1188.5,1677.8 1192.1,1658.2 1193.0,1651.7C1193.9,1645.2 1197.6,1610.2 1198.5,1601.9C1199.4,1593.6 1203.0,1560.0 1203.9,1552.2C1204.8,1544.3 1208.5,1513.7 1209.4,1507.4C1210.3,1501.1 1213.9,1480.6 1214.8,1476.5C1215.7,1472.5 1219.4,1461.5 1220.3,1459.0C1221.2,1456.6 1224.8,1448.5 1225.7,1447.1C1226.6,1445.7 1230.3,1442.6 1231.2,1442.3C1232.1,1442.0 1235.7,1442.5 1236.7,1443.1C1237.6,1443.7 1241.2,1448.6 1242.1,1449.7C1243.0,1450.8 1246.6,1455.1 1247.5,1456.2C1248.5,1457.4 1252.1,1461.3 1253.0,1463.0C1253.9,1464.7 1257.5,1473.3 1258.5,1476.9C1259.4,1480.6 1263.0,1500.2 1263.9,1506.4C1264.8,1512.6 1268.4,1543.3 1269.3,1551.2C1270.3,1559.1 1273.9,1593.4 1274.8,1600.9C1275.7,1608.5 1279.3,1635.9 1280.2,1641.7C1281.2,1647.6 1285.2,1669.1 1285.7,1671.6"/>
</g>
<g stroke="#000" stroke-width="3.3" fill="none" stroke-linecap="square">
<rect x="195.3" y="1099.6000000000001" width="1090.4" height="701.8999999999999"/>
<line x1="1550.2" y1="1099.6000000000001" x2="1550.2" y2="1801.5"/>
</g>
<g stroke="#000" stroke-width="3.1" fill="none">
<line x1="1551.2" y1="1099.60" x2="1526.2" y2="1099.60"/>
<line x1="195.3" y1="1146.39" x2="207.3" y2="1146.39"/>
<line x1="1285.7" y1="1146.39" x2="1273.7" y2="1146.39"/>
<line x1="1550.2" y1="1146.39" x2="1538.2" y2="1146.39"/>
<line x1="195.3" y1="1193.19" x2="207.3" y2="1193.19"/>
<line x1="1285.7" y1="1193.19" x2="1273.7" y2="1193.19"/>
<line x1="1550.2" y1="1193.19" x2="1538.2" y2="1193.19"/>
<line x1="195.3" y1="1239.98" x2="207.3" y2="1239.98"/>
<line x1="1285.7" y1="1239.98" x2="1273.7" y2="1239.98"/>
<line x1="1550.2" y1="1239.98" x2="1538.2" y2="1239.98"/>
<line x1="195.3" y1="1286.77" x2="207.3" y2="1286.77"/>
<line x1="1285.7" y1="1286.77" x2="1273.7" y2="1286.77"/>
<line x1="1550.2" y1="1286.77" x2="1538.2" y2="1286.77"/>
<line x1="195.3" y1="1333.57" x2="219.3" y2="1333.57"/>
<line x1="1285.7" y1="1333.57" x2="1261.7" y2="1333.57"/>
<line x1="1550.2" y1="1333.57" x2="1526.2" y2="1333.57"/>
<line x1="195.3" y1="1380.36" x2="207.3" y2="1380.36"/>
<line x1="1285.7" y1="1380.36" x2="1273.7" y2="1380.36"/>
<line x1="1550.2" y1="1380.36" x2="1538.2" y2="1380.36"/>
<line x1="195.3" y1="1427.15" x2="207.3" y2="1427.15"/>
<line x1="1285.7" y1="1427.15" x2="1273.7" y2="1427.15"/>
<line x1="1550.2" y1="1427.15" x2="1538.2" y2="1427.15"/>
<line x1="195.3" y1="1473.95" x2="207.3" y2="1473.95"/>
<line x1="1285.7" y1="1473.95" x2="1273.7" y2="1473.95"/>
<line x1="1550.2" y1="1473.95" x2="1538.2" y2="1473.95"/>
<line x1="195.3" y1="1520.74" x2="207.3" y2="1520.74"/>
<line x1="1285.7" y1="1520.74" x2="1273.7" y2="1520.74"/>
<line x1="1550.2" y1="1520.74" x2="1538.2" y2="1520.74"/>
<line x1="195.3" y1="1567.53" x2="219.3" y2="1567.53"/>
<line x1="1285.7" y1="1567.53" x2="1261.7" y2="1567.53"/>
<line x1="1550.2" y1="1567.53" x2="1526.2" y2="1567.53"/>
<line x1="195.3" y1="1614.33" x2="207.3" y2="1614.33"/>
<line x1="1285.7" y1="1614.33" x2="1273.7" y2="1614.33"/>
<line x1="1550.2" y1="1614.33" x2="1538.2" y2="1614.33"/>
<line x1="195.3" y1="1661.12" x2="207.3" y2="1661.12"/>
<line x1="1285.7" y1="1661.12" x2="1273.7" y2="1661.12"/>
<line x1="1550.2" y1="1661.12" x2="1538.2" y2="1661.12"/>
<line x1="195.3" y1="1707.91" x2="207.3" y2="1707.91"/>
<line x1="1285.7" y1="1707.91" x2="1273.7" y2="1707.91"/>
<line x1="1550.2" y1="1707.91" x2="1538.2" y2="1707.91"/>
<line x1="195.3" y1="1754.71" x2="207.3" y2="1754.71"/>
<line x1="1285.7" y1="1754.71" x2="1273.7" y2="1754.71"/>
<line x1="1550.2" y1="1754.71" x2="1538.2" y2="1754.71"/>
<line x1="1551.2" y1="1801.50" x2="1526.2" y2="1801.50"/>
<line x1="249.82" y1="1801.5" x2="249.82" y2="1789.5"/>
<line x1="304.34" y1="1801.5" x2="304.34" y2="1789.5"/>
<line x1="358.86" y1="1801.5" x2="358.86" y2="1789.5"/>
<line x1="413.38" y1="1801.5" x2="413.38" y2="1789.5"/>
<line x1="467.90" y1="1801.5" x2="467.90" y2="1777.5"/>
<line x1="522.42" y1="1801.5" x2="522.42" y2="1789.5"/>
<line x1="576.94" y1="1801.5" x2="576.94" y2="1789.5"/>
<line x1="631.46" y1="1801.5" x2="631.46" y2="1789.5"/>
<line x1="685.98" y1="1801.5" x2="685.98" y2="1789.5"/>
<line x1="740.50" y1="1801.5" x2="740.50" y2="1777.5"/>
<line x1="795.02" y1="1801.5" x2="795.02" y2="1789.5"/>
<line x1="849.54" y1="1801.5" x2="849.54" y2="1789.5"/>
<line x1="904.06" y1="1801.5" x2="904.06" y2="1789.5"/>
<line x1="958.58" y1="1801.5" x2="958.58" y2="1789.5"/>
<line x1="1013.10" y1="1801.5" x2="1013.10" y2="1777.5"/>
<line x1="1067.62" y1="1801.5" x2="1067.62" y2="1789.5"/>
<line x1="1122.14" y1="1801.5" x2="1122.14" y2="1789.5"/>
<line x1="1176.66" y1="1801.5" x2="1176.66" y2="1789.5"/>
<line x1="1231.18" y1="1801.5" x2="1231.18" y2="1789.5"/>
</g>
<g font-family='"Liberation Sans", Arial, sans-serif' font-size="37" fill="#000" stroke="#000" stroke-width="0.35">
<text x="170" y="1111.8" text-anchor="end">200</text>
<text x="1311" y="1111.8">1.00</text>
<text x="1576" y="1111.8">50</text>
<text x="170" y="1345.9" text-anchor="end">100</text>
<text x="1311" y="1345.9">0.50</text>
<text x="1576" y="1345.9">25</text>
<text x="170" y="1580.4" text-anchor="end">0</text>
<text x="1311" y="1580.4">0.00</text>
<text x="1576" y="1580.4">0</text>
<text x="170" y="1815.1" text-anchor="end">-100</text>
<text x="1311" y="1815.1">-0.50</text>
<text x="1576" y="1815.1">-25</text>
<text x="195.3" y="1843.8" text-anchor="middle">0</text>
<text x="467.9" y="1843.8" text-anchor="middle">5</text>
<text x="740.5" y="1843.8" text-anchor="middle">10</text>
<text x="1013.1" y="1843.8" text-anchor="middle">15</text>
<text x="1285.7" y="1843.8" text-anchor="middle">20</text>
</g>
<g font-family='"Liberation Sans", Arial, sans-serif' font-size="41.3" fill="#000" stroke="#000" stroke-width="0.35">
<text x="741" y="1887.5" text-anchor="middle" font-size="40.5">t [ms]</text>
<text transform="translate(79.8,1449.8500000000001) rotate(-90)" text-anchor="middle">p' [mbar]</text>
<text transform="translate(1445.6,1450.7500000000002) rotate(-90)" text-anchor="middle">q' [a.u.]</text>
<text transform="translate(1661.4,1450.15) rotate(-90)" text-anchor="middle">u' [m/s]</text>
</g>
<g stroke-width="3.2" fill="none">
<line x1="262" y1="1124.6" x2="429" y2="1124.6" stroke="#000"/>
<line x1="262" y1="1169.0" x2="429" y2="1169.0" stroke="#ff0000"/>
<line x1="262" y1="1213.5" x2="429" y2="1213.5" stroke="#00dc00"/>
<line x1="262" y1="1257.9" x2="429" y2="1257.9" stroke="#2020ff"/>
</g>
<g font-family='"Liberation Sans", Arial, sans-serif' font-size="38" fill="#000" stroke="#000" stroke-width="0.35">
<text x="457" y="1136.0">p'<tspan font-size="22.3" dy="11">C</tspan></text>
<text x="457" y="1180.6">p'<tspan font-size="22.3" dy="11">Inlet</tspan></text>
<text x="457" y="1225.2">q'</text>
<text x="457" y="1269.8">u'</text>
</g>
</g>
<g font-family='"Liberation Serif", serif' fill="#000">
<text x="808.10" y="1024.40" font-size="86">(</text>
<text x="835.50" y="1024.70" font-size="86" font-weight="bold">a</text>
<text x="876.30" y="1024.40" font-size="86">)</text>
<text x="803.40" y="2013.60" font-size="86">(</text>
<text x="832.00" y="2013.70" font-size="89" font-weight="bold">b</text>
<text x="881.30" y="2013.60" font-size="86">)</text>
</g>
</svg>
</body></html>
